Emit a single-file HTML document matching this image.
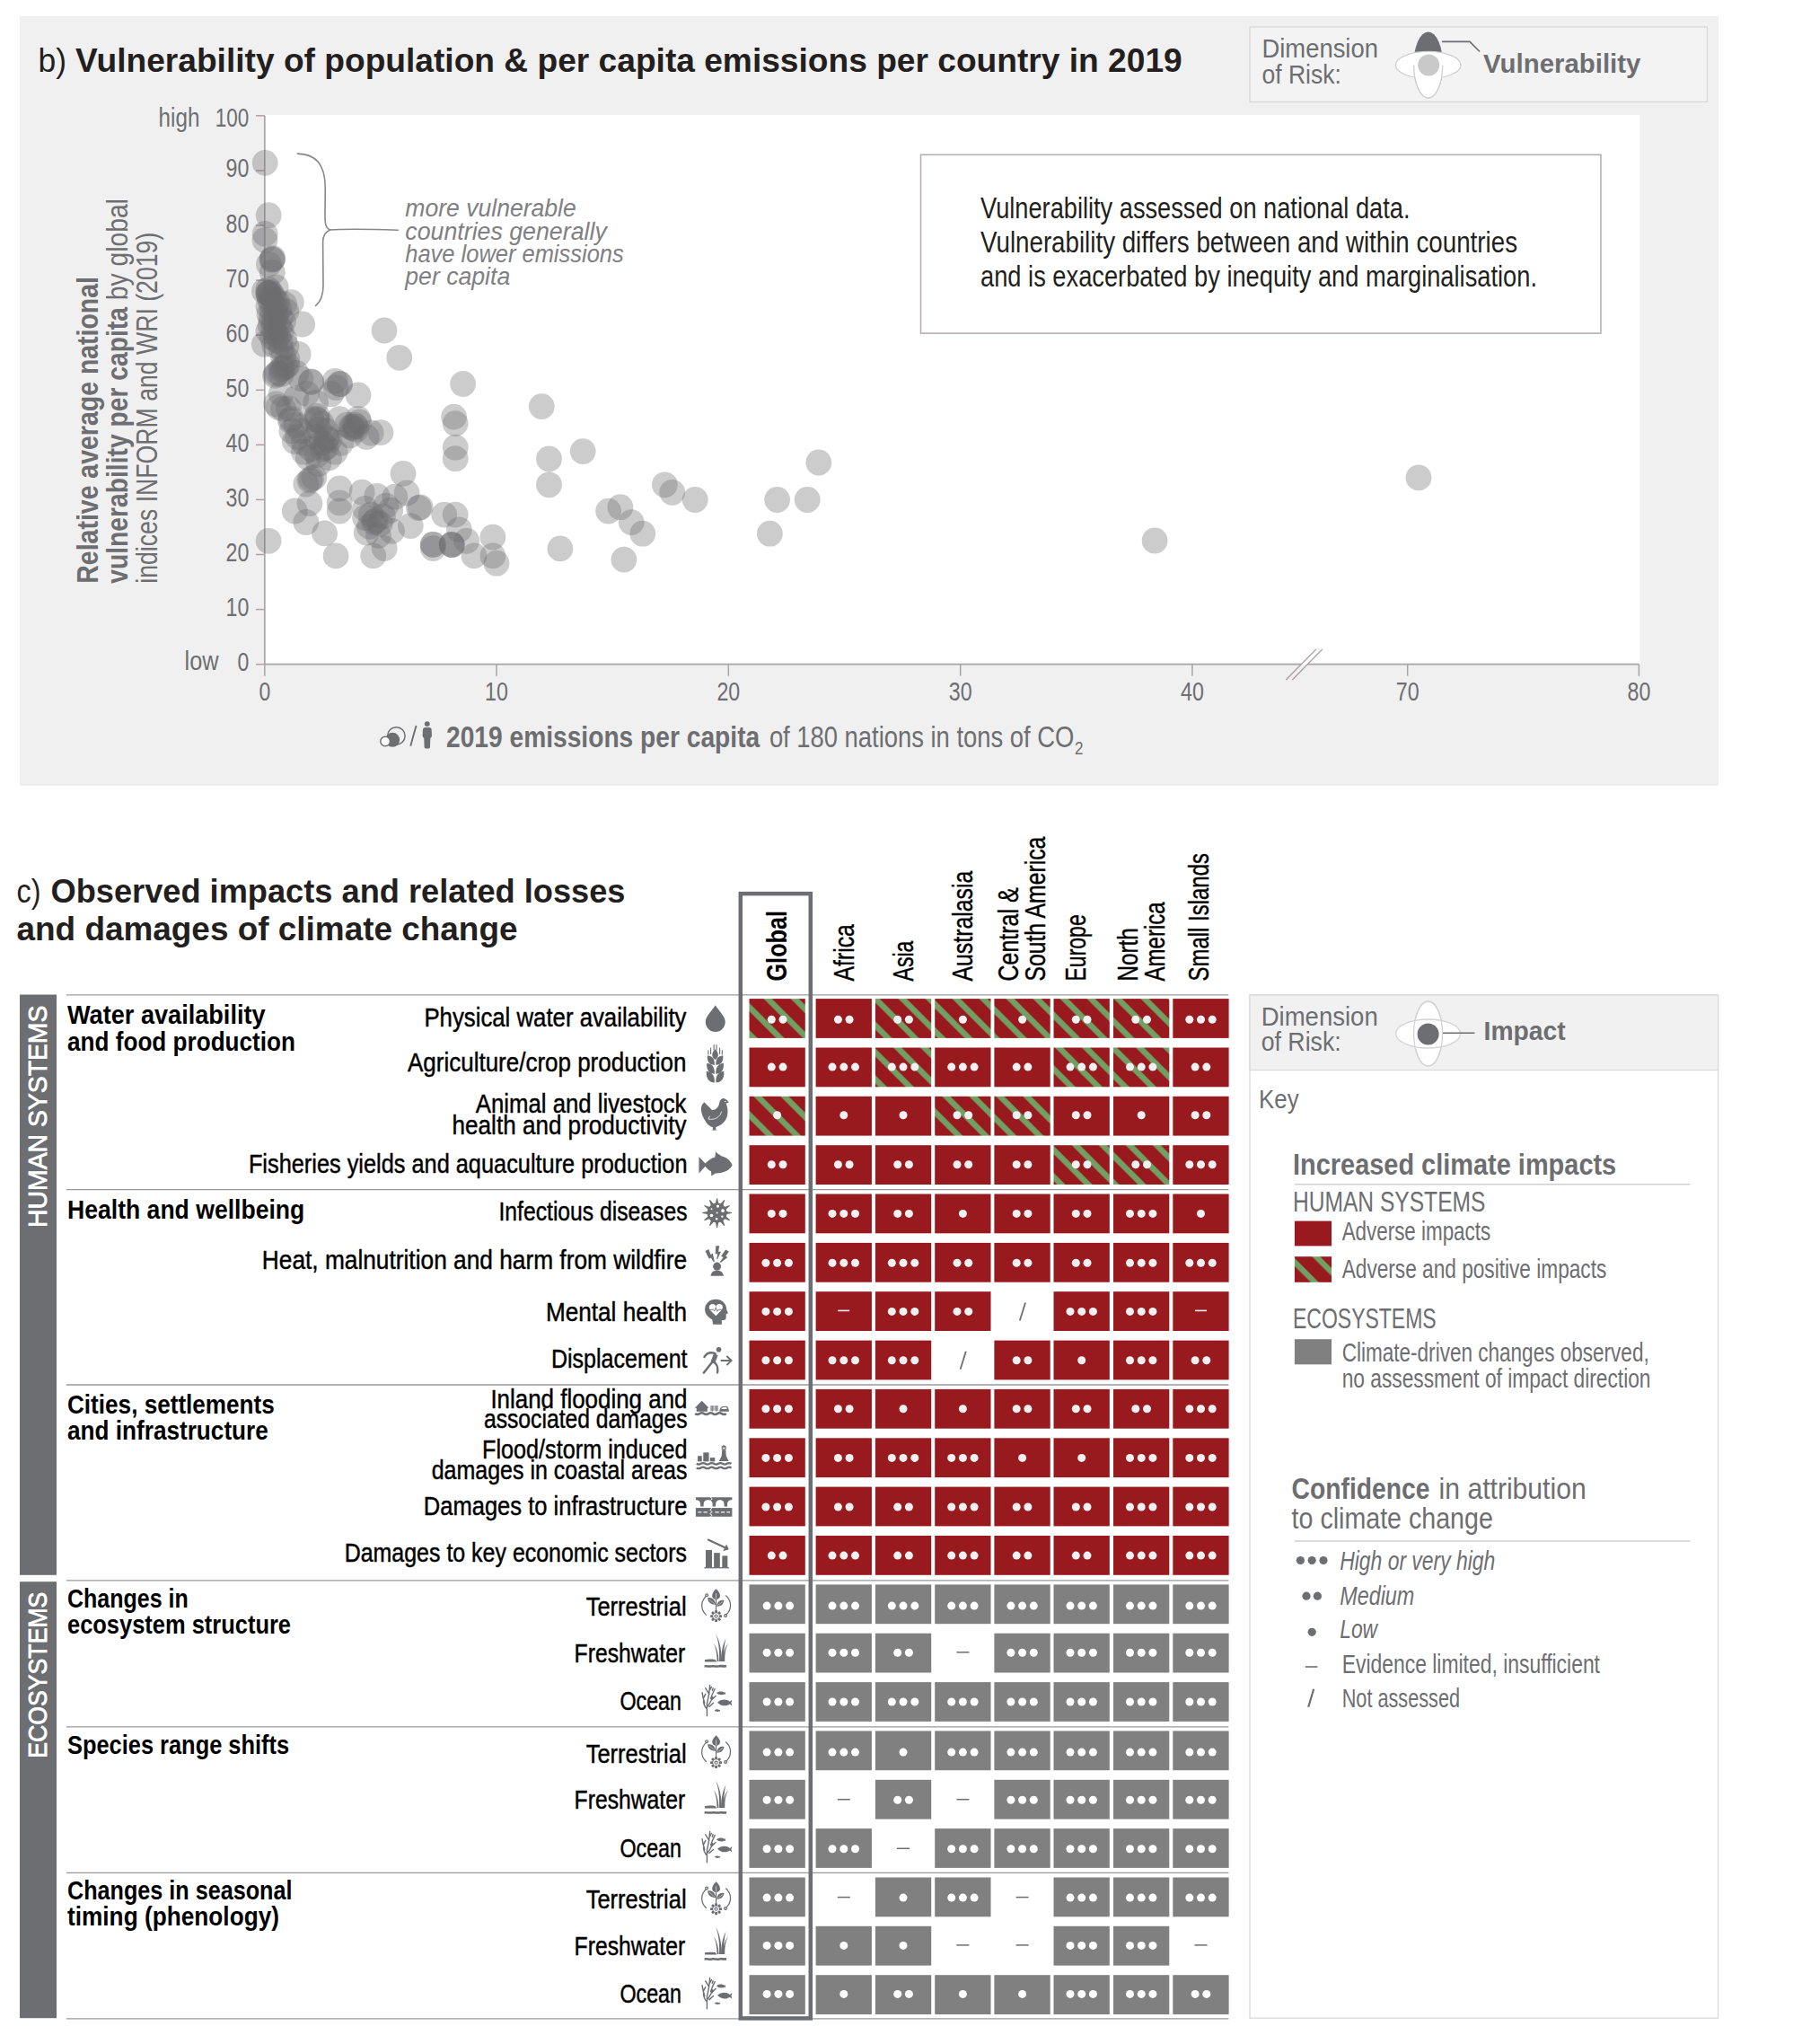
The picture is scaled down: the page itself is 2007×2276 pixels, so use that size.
<!DOCTYPE html>
<html lang="en"><head><meta charset="utf-8"><title>Vulnerability and observed impacts</title>
<style>
html,body{margin:0;padding:0;background:#fff;}
body{width:2007px;height:2276px;overflow:hidden;font-family:"Liberation Sans", sans-serif;}
svg{display:block;font-family:"Liberation Sans", sans-serif;}
text{white-space:pre;}
</style></head><body>
<svg width="2007" height="2276" viewBox="0 0 2007 2276">
<defs>
<pattern id="hatch" patternUnits="userSpaceOnUse" width="21.21" height="21.21" patternTransform="rotate(-45)">
<rect x="0" y="0" width="21.3" height="21.3" fill="#981a1e"/>
<rect x="6" y="0" width="6.4" height="21.3" fill="#729f63"/>
</pattern>
<pattern id="hatch2" patternUnits="userSpaceOnUse" width="21.21" height="21.21" patternTransform="rotate(-45)">
<rect x="0" y="0" width="21.3" height="21.3" fill="#981a1e"/>
<rect x="1.5" y="0" width="6.3" height="21.3" fill="#729f63"/>
</pattern>
<clipPath id="plotclip"><rect x="270" y="120" width="1560" height="640"/></clipPath>
</defs>
<rect x="22" y="18" width="1892" height="857" fill="#f0f0f0"/>
<rect x="295" y="128" width="1531.5" height="611.8" fill="#ffffff"/>
<text x="42.5" y="80.2" font-size="36" textLength="31.5" lengthAdjust="spacingAndGlyphs" fill="#231f20" >b)</text>
<text x="84.1" y="80.2" font-size="36" textLength="1232.6" lengthAdjust="spacingAndGlyphs" font-weight="bold" fill="#231f20" >Vulnerability of population &amp; per capita emissions per country in 2019</text>
<rect x="1392" y="30" width="509.4" height="83.5" fill="#f3f3f3" stroke="#d6d6d6" stroke-width="1.2"/>
<text x="1405.5" y="64.0" font-size="30" textLength="129.4" lengthAdjust="spacingAndGlyphs" fill="#6d6e71" >Dimension</text>
<text x="1405.5" y="92.8" font-size="30" textLength="88.4" lengthAdjust="spacingAndGlyphs" fill="#6d6e71" >of Risk:</text>
<text x="1652.1" y="80.8" font-size="29.5" textLength="175.3" lengthAdjust="spacingAndGlyphs" font-weight="bold" fill="#6d6e71" >Vulnerability</text>
<clipPath id="cpb"><rect x="1570.7" y="72.4" width="40" height="40"/></clipPath>
<g stroke="#d0d0d0" stroke-width="1.3"><ellipse cx="1590.7" cy="72.4" rx="16.4" ry="36.9" fill="#6d6e71" stroke="none"/><ellipse cx="1590.7" cy="72.4" rx="36.3" ry="15" fill="#ffffff"/><ellipse cx="1590.7" cy="72.4" rx="16" ry="36.7" fill="#ffffff" clip-path="url(#cpb)"/><circle cx="1591.2" cy="72.4" r="12" fill="#c9c9c9" stroke="none"/></g>
<path d="M1606,46.4 H1637 L1648,57.5" fill="none" stroke="#6d6e71" stroke-width="1.6"/>
<path d="M294.8,128.80000000000007 V739.7 H1825.6" fill="none" stroke="#a7a5a6" stroke-width="1.7"/>
<path d="M1432.2,757 L1465.9,722.9 L1472.8,722.9 L1439.3,757 Z" fill="#ffffff" stroke="none"/>
<path d="M1432.2,757 L1449.3,739.7 L1456.3,739.7 L1439.3,757 Z" fill="#f0f0f0" stroke="none"/>
<path d="M1432.2,757 L1465.9,722.9 M1439.3,757 L1472.8,722.9" stroke="#a89a9e" stroke-width="1.3" fill="none"/>
<line x1="285" y1="739.7" x2="294.8" y2="739.7" stroke="#b09fa3" stroke-width="1.5"/>
<text x="277.3" y="747.2" font-size="29.7" textLength="12.8" lengthAdjust="spacingAndGlyphs" text-anchor="end" fill="#6d6e71" >0</text>
<line x1="285" y1="678.6" x2="294.8" y2="678.6" stroke="#b09fa3" stroke-width="1.5"/>
<text x="277.3" y="686.1" font-size="29.7" textLength="25.8" lengthAdjust="spacingAndGlyphs" text-anchor="end" fill="#6d6e71" >10</text>
<line x1="285" y1="617.5" x2="294.8" y2="617.5" stroke="#b09fa3" stroke-width="1.5"/>
<text x="277.3" y="625.0" font-size="29.7" textLength="25.8" lengthAdjust="spacingAndGlyphs" text-anchor="end" fill="#6d6e71" >20</text>
<line x1="285" y1="556.4" x2="294.8" y2="556.4" stroke="#b09fa3" stroke-width="1.5"/>
<text x="277.3" y="563.9" font-size="29.7" textLength="25.8" lengthAdjust="spacingAndGlyphs" text-anchor="end" fill="#6d6e71" >30</text>
<line x1="285" y1="495.3" x2="294.8" y2="495.3" stroke="#b09fa3" stroke-width="1.5"/>
<text x="277.3" y="502.8" font-size="29.7" textLength="25.8" lengthAdjust="spacingAndGlyphs" text-anchor="end" fill="#6d6e71" >40</text>
<line x1="285" y1="434.3" x2="294.8" y2="434.3" stroke="#b09fa3" stroke-width="1.5"/>
<text x="277.3" y="441.8" font-size="29.7" textLength="25.8" lengthAdjust="spacingAndGlyphs" text-anchor="end" fill="#6d6e71" >50</text>
<line x1="285" y1="373.2" x2="294.8" y2="373.2" stroke="#b09fa3" stroke-width="1.5"/>
<text x="277.3" y="380.7" font-size="29.7" textLength="25.8" lengthAdjust="spacingAndGlyphs" text-anchor="end" fill="#6d6e71" >60</text>
<line x1="285" y1="312.1" x2="294.8" y2="312.1" stroke="#b09fa3" stroke-width="1.5"/>
<text x="277.3" y="319.6" font-size="29.7" textLength="25.8" lengthAdjust="spacingAndGlyphs" text-anchor="end" fill="#6d6e71" >70</text>
<line x1="285" y1="251.0" x2="294.8" y2="251.0" stroke="#b09fa3" stroke-width="1.5"/>
<text x="277.3" y="258.5" font-size="29.7" textLength="25.8" lengthAdjust="spacingAndGlyphs" text-anchor="end" fill="#6d6e71" >80</text>
<line x1="285" y1="189.9" x2="294.8" y2="189.9" stroke="#b09fa3" stroke-width="1.5"/>
<text x="277.3" y="197.4" font-size="29.7" textLength="25.8" lengthAdjust="spacingAndGlyphs" text-anchor="end" fill="#6d6e71" >90</text>
<line x1="285" y1="128.8" x2="294.8" y2="128.8" stroke="#b09fa3" stroke-width="1.5"/>
<text x="277.3" y="141.2" font-size="29.7" textLength="37.5" lengthAdjust="spacingAndGlyphs" text-anchor="end" fill="#6d6e71" >100</text>
<text x="176.6" y="141.2" font-size="29.7" textLength="45.8" lengthAdjust="spacingAndGlyphs" fill="#6d6e71" >high</text>
<text x="205.5" y="745.6" font-size="29.7" textLength="38.0" lengthAdjust="spacingAndGlyphs" fill="#6d6e71" >low</text>
<line x1="294.8" y1="739.7" x2="294.8" y2="752.7" stroke="#a7a5a6" stroke-width="1.5"/>
<text x="294.8" y="779.6" font-size="29.7" textLength="12.8" lengthAdjust="spacingAndGlyphs" text-anchor="middle" fill="#6d6e71" >0</text>
<line x1="553" y1="739.7" x2="553" y2="752.7" stroke="#a7a5a6" stroke-width="1.5"/>
<text x="553.0" y="779.6" font-size="29.7" textLength="25.8" lengthAdjust="spacingAndGlyphs" text-anchor="middle" fill="#6d6e71" >10</text>
<line x1="811.3" y1="739.7" x2="811.3" y2="752.7" stroke="#a7a5a6" stroke-width="1.5"/>
<text x="811.3" y="779.6" font-size="29.7" textLength="25.8" lengthAdjust="spacingAndGlyphs" text-anchor="middle" fill="#6d6e71" >20</text>
<line x1="1069.7" y1="739.7" x2="1069.7" y2="752.7" stroke="#a7a5a6" stroke-width="1.5"/>
<text x="1069.7" y="779.6" font-size="29.7" textLength="25.8" lengthAdjust="spacingAndGlyphs" text-anchor="middle" fill="#6d6e71" >30</text>
<line x1="1327.9" y1="739.7" x2="1327.9" y2="752.7" stroke="#a7a5a6" stroke-width="1.5"/>
<text x="1327.9" y="779.6" font-size="29.7" textLength="25.8" lengthAdjust="spacingAndGlyphs" text-anchor="middle" fill="#6d6e71" >40</text>
<line x1="1567.7" y1="739.7" x2="1567.7" y2="752.7" stroke="#a7a5a6" stroke-width="1.5"/>
<text x="1567.7" y="779.6" font-size="29.7" textLength="25.8" lengthAdjust="spacingAndGlyphs" text-anchor="middle" fill="#6d6e71" >70</text>
<line x1="1825.4" y1="739.7" x2="1825.4" y2="752.7" stroke="#a7a5a6" stroke-width="1.5"/>
<text x="1825.4" y="779.6" font-size="29.7" textLength="25.8" lengthAdjust="spacingAndGlyphs" text-anchor="middle" fill="#6d6e71" >80</text>
<text x="109.3" y="649.7" font-size="33.5" textLength="341.7" lengthAdjust="spacingAndGlyphs" font-weight="bold" transform="rotate(-90 109.3 649.7)" fill="#6d6e71" >Relative average national</text>
<text x="142.4" y="649.7" font-size="33.5" textLength="428.6" lengthAdjust="spacingAndGlyphs" transform="rotate(-90 142.4 649.7)" fill="#6d6e71" ><tspan font-weight="bold">vulnerability per capita</tspan> by global</text>
<text x="175.2" y="649.7" font-size="33.5" textLength="391.0" lengthAdjust="spacingAndGlyphs" transform="rotate(-90 175.2 649.7)" fill="#6d6e71" >indices INFORM and WRI (2019)</text>
<text x="497.0" y="832.3" font-size="34" textLength="349.2" lengthAdjust="spacingAndGlyphs" font-weight="bold" fill="#6d6e71" >2019 emissions per capita</text>
<text x="856.9" y="832.3" font-size="34" textLength="339.4" lengthAdjust="spacingAndGlyphs" fill="#6d6e71" >of 180 nations in tons of CO</text>
<text x="1197.0" y="840.0" font-size="20" textLength="9.5" lengthAdjust="spacingAndGlyphs" fill="#6d6e71" >2</text>
<g><circle cx="441.35" cy="819.4" r="9.75" fill="#f0f0f0" stroke="#6d6e71" stroke-width="1.5"/><circle cx="437.2" cy="823.85" r="8" fill="#6d6e71"/><circle cx="429.15" cy="825.5" r="5.35" fill="#ffffff" stroke="#6d6e71" stroke-width="1.5"/></g>
<line x1="457.2" y1="830.8" x2="463.55" y2="808" stroke="#6d6e71" stroke-width="1.9"/>
<g fill="#6d6e71"><circle cx="475.76" cy="806.1" r="2.95"/><path d="M470.9,813 q0,-3 3,-3 h3.8 q3,0 3,3 l0.3,7 l-1.7,2.2 l-0.3,9.6 q0,1.6 -1.6,1.6 h-3.2 q-1.6,0 -1.6,-1.6 l-0.3,-9.6 l-1.7,-2.2 z"/></g>
<rect x="1025.5" y="172.3" width="757.5" height="198.8" fill="#ffffff" stroke="#b4aaae" stroke-width="1.5"/>
<text x="1092.0" y="243.4" font-size="32.5" textLength="478.5" lengthAdjust="spacingAndGlyphs" fill="#231f20" >Vulnerability assessed on national data.</text>
<text x="1092.0" y="281.1" font-size="32.5" textLength="598.0" lengthAdjust="spacingAndGlyphs" fill="#231f20" >Vulnerability differs between and within countries</text>
<text x="1092.0" y="318.8" font-size="32.5" textLength="620.0" lengthAdjust="spacingAndGlyphs" fill="#231f20" >and is exacerbated by inequity and marginalisation.</text>
<text x="451.3" y="241.2" font-size="27" textLength="190.5" lengthAdjust="spacingAndGlyphs" font-style="italic" fill="#808084" >more vulnerable</text>
<text x="451.3" y="266.8" font-size="27" textLength="224.5" lengthAdjust="spacingAndGlyphs" font-style="italic" fill="#808084" >countries generally</text>
<text x="451.3" y="291.9" font-size="27" textLength="243.4" lengthAdjust="spacingAndGlyphs" font-style="italic" fill="#808084" >have lower emissions</text>
<text x="451.3" y="316.9" font-size="27" textLength="116.9" lengthAdjust="spacingAndGlyphs" font-style="italic" fill="#808084" >per capita</text>
<path d="M331.3,171.1 C352,171.5 362.3,183 362.3,210 L362,240 C362,250 363,254.5 368,256 C363,257.5 359.6,261 359.6,270 L360,318 C360,328 358,335 351.6,340.4 M367,256 C390,254.5 420,255.5 443.2,256.3" fill="none" stroke="#87878a" stroke-width="1.6" stroke-linecap="round"/>
<g fill="#6d6e71" fill-opacity="0.35">
<circle cx="603.3" cy="452.6" r="14.4"/>
<circle cx="611.5" cy="511.0" r="14.4"/>
<circle cx="649.2" cy="502.6" r="14.4"/>
<circle cx="611.5" cy="539.8" r="14.4"/>
<circle cx="740.4" cy="539.8" r="14.4"/>
<circle cx="748.7" cy="548.3" r="14.4"/>
<circle cx="774.2" cy="556.5" r="14.4"/>
<circle cx="677.6" cy="569.1" r="14.4"/>
<circle cx="690.9" cy="564.7" r="14.4"/>
<circle cx="703.2" cy="581.6" r="14.4"/>
<circle cx="715.8" cy="594.2" r="14.4"/>
<circle cx="694.9" cy="623.1" r="14.4"/>
<circle cx="623.9" cy="610.9" r="14.4"/>
<circle cx="911.8" cy="515.0" r="14.4"/>
<circle cx="865.6" cy="556.5" r="14.4"/>
<circle cx="899.2" cy="556.5" r="14.4"/>
<circle cx="857.4" cy="594.2" r="14.4"/>
<circle cx="1286.1" cy="602.0" r="14.4"/>
<circle cx="1580.0" cy="531.9" r="14.4"/>
<circle cx="428.0" cy="368.0" r="14.4"/>
<circle cx="444.8" cy="398.3" r="14.4"/>
<circle cx="515.6" cy="427.5" r="14.4"/>
<circle cx="505.6" cy="464.1" r="14.4"/>
<circle cx="507.2" cy="471.6" r="14.4"/>
<circle cx="507.2" cy="498.2" r="14.4"/>
<circle cx="507.2" cy="510.7" r="14.4"/>
<circle cx="399.0" cy="440.0" r="14.4"/>
<circle cx="378.2" cy="427.5" r="14.4"/>
<circle cx="374.1" cy="431.6" r="14.4"/>
<circle cx="424.0" cy="481.6" r="14.4"/>
<circle cx="449.0" cy="527.4" r="14.4"/>
<circle cx="378.2" cy="544.0" r="14.4"/>
<circle cx="378.2" cy="559.8" r="14.4"/>
<circle cx="378.2" cy="569.0" r="14.4"/>
<circle cx="403.2" cy="548.2" r="14.4"/>
<circle cx="419.8" cy="552.3" r="14.4"/>
<circle cx="453.1" cy="549.0" r="14.4"/>
<circle cx="439.8" cy="553.2" r="14.4"/>
<circle cx="468.1" cy="564.8" r="14.4"/>
<circle cx="466.4" cy="565.6" r="14.4"/>
<circle cx="494.7" cy="573.1" r="14.4"/>
<circle cx="507.2" cy="573.1" r="14.4"/>
<circle cx="511.4" cy="589.8" r="14.4"/>
<circle cx="519.7" cy="602.3" r="14.4"/>
<circle cx="548.9" cy="598.1" r="14.4"/>
<circle cx="503.1" cy="606.4" r="14.4"/>
<circle cx="503.1" cy="606.4" r="14.4"/>
<circle cx="503.4" cy="606.9" r="14.4"/>
<circle cx="482.3" cy="606.4" r="14.4"/>
<circle cx="482.3" cy="606.4" r="14.4"/>
<circle cx="482.3" cy="610.6" r="14.4"/>
<circle cx="528.0" cy="618.9" r="14.4"/>
<circle cx="548.9" cy="618.9" r="14.4"/>
<circle cx="553.0" cy="627.2" r="14.4"/>
<circle cx="299.1" cy="602.3" r="14.4"/>
<circle cx="328.3" cy="569.0" r="14.4"/>
<circle cx="344.9" cy="560.6" r="14.4"/>
<circle cx="340.8" cy="581.5" r="14.4"/>
<circle cx="361.6" cy="593.9" r="14.4"/>
<circle cx="374.1" cy="618.9" r="14.4"/>
<circle cx="415.7" cy="618.9" r="14.4"/>
<circle cx="428.2" cy="610.6" r="14.4"/>
<circle cx="457.3" cy="585.6" r="14.4"/>
<circle cx="344.9" cy="534.8" r="14.4"/>
<circle cx="349.9" cy="531.5" r="14.4"/>
<circle cx="340.8" cy="539.0" r="14.4"/>
<circle cx="346.6" cy="533.2" r="14.4"/>
<circle cx="406.5" cy="566.5" r="14.4"/>
<circle cx="413.2" cy="573.1" r="14.4"/>
<circle cx="418.2" cy="579.8" r="14.4"/>
<circle cx="423.2" cy="583.1" r="14.4"/>
<circle cx="411.5" cy="586.4" r="14.4"/>
<circle cx="426.5" cy="574.8" r="14.4"/>
<circle cx="434.8" cy="568.1" r="14.4"/>
<circle cx="436.5" cy="591.4" r="14.4"/>
<circle cx="408.2" cy="593.1" r="14.4"/>
<circle cx="421.5" cy="596.4" r="14.4"/>
<circle cx="429.8" cy="563.1" r="14.4"/>
<circle cx="416.5" cy="581.5" r="14.4"/>
<circle cx="406.5" cy="576.5" r="14.4"/>
<circle cx="310.0" cy="415.0" r="14.4"/>
<circle cx="315.0" cy="410.0" r="14.4"/>
<circle cx="320.0" cy="406.7" r="14.4"/>
<circle cx="306.6" cy="418.3" r="14.4"/>
<circle cx="313.3" cy="416.6" r="14.4"/>
<circle cx="334.9" cy="421.6" r="14.4"/>
<circle cx="346.6" cy="425.0" r="14.4"/>
<circle cx="313.3" cy="438.3" r="14.4"/>
<circle cx="310.0" cy="453.3" r="14.4"/>
<circle cx="321.6" cy="454.9" r="14.4"/>
<circle cx="329.9" cy="443.3" r="14.4"/>
<circle cx="341.6" cy="438.3" r="14.4"/>
<circle cx="351.6" cy="448.3" r="14.4"/>
<circle cx="323.3" cy="468.3" r="14.4"/>
<circle cx="329.9" cy="473.2" r="14.4"/>
<circle cx="324.9" cy="479.9" r="14.4"/>
<circle cx="334.9" cy="479.9" r="14.4"/>
<circle cx="346.6" cy="466.6" r="14.4"/>
<circle cx="353.2" cy="463.3" r="14.4"/>
<circle cx="358.2" cy="471.6" r="14.4"/>
<circle cx="363.2" cy="479.9" r="14.4"/>
<circle cx="366.6" cy="489.9" r="14.4"/>
<circle cx="359.9" cy="499.9" r="14.4"/>
<circle cx="353.2" cy="506.5" r="14.4"/>
<circle cx="346.6" cy="499.9" r="14.4"/>
<circle cx="338.3" cy="493.2" r="14.4"/>
<circle cx="331.6" cy="486.6" r="14.4"/>
<circle cx="343.3" cy="509.9" r="14.4"/>
<circle cx="366.6" cy="509.9" r="14.4"/>
<circle cx="373.2" cy="503.2" r="14.4"/>
<circle cx="379.9" cy="493.2" r="14.4"/>
<circle cx="386.5" cy="473.2" r="14.4"/>
<circle cx="394.9" cy="473.2" r="14.4"/>
<circle cx="396.5" cy="478.2" r="14.4"/>
<circle cx="399.9" cy="469.9" r="14.4"/>
<circle cx="389.9" cy="484.9" r="14.4"/>
<circle cx="408.2" cy="486.6" r="14.4"/>
<circle cx="378.2" cy="466.6" r="14.4"/>
<circle cx="354.9" cy="516.5" r="14.4"/>
<circle cx="338.3" cy="503.2" r="14.4"/>
<circle cx="328.3" cy="491.6" r="14.4"/>
<circle cx="358.2" cy="493.2" r="14.4"/>
<circle cx="363.2" cy="498.2" r="14.4"/>
<circle cx="351.6" cy="486.6" r="14.4"/>
<circle cx="396.5" cy="474.9" r="14.4"/>
<circle cx="354.9" cy="478.2" r="14.4"/>
<circle cx="295.2" cy="181.4" r="14.4"/>
<circle cx="299.2" cy="239.7" r="14.4"/>
<circle cx="295.2" cy="260.4" r="14.4"/>
<circle cx="295.0" cy="267.4" r="14.4"/>
<circle cx="303.3" cy="288.7" r="14.4"/>
<circle cx="303.9" cy="287.6" r="14.4"/>
<circle cx="302.8" cy="289.3" r="14.4"/>
<circle cx="299.4" cy="294.3" r="14.4"/>
<circle cx="303.3" cy="303.2" r="14.4"/>
<circle cx="307.2" cy="319.8" r="14.4"/>
<circle cx="294.4" cy="324.3" r="14.4"/>
<circle cx="298.9" cy="326.5" r="14.4"/>
<circle cx="298.9" cy="326.5" r="14.4"/>
<circle cx="299.4" cy="327.0" r="14.4"/>
<circle cx="324.4" cy="336.6" r="14.4"/>
<circle cx="336.6" cy="361.0" r="14.4"/>
<circle cx="332.2" cy="394.3" r="14.4"/>
<circle cx="294.4" cy="383.2" r="14.4"/>
<circle cx="307.7" cy="416.5" r="14.4"/>
<circle cx="329.9" cy="415.4" r="14.4"/>
<circle cx="313.3" cy="411.0" r="14.4"/>
<circle cx="298.9" cy="322.2" r="14.4"/>
<circle cx="301.1" cy="325.5" r="14.4"/>
<circle cx="303.3" cy="328.9" r="14.4"/>
<circle cx="300.0" cy="332.2" r="14.4"/>
<circle cx="305.5" cy="333.3" r="14.4"/>
<circle cx="308.9" cy="336.6" r="14.4"/>
<circle cx="302.2" cy="337.7" r="14.4"/>
<circle cx="298.9" cy="341.1" r="14.4"/>
<circle cx="306.6" cy="342.2" r="14.4"/>
<circle cx="311.1" cy="344.4" r="14.4"/>
<circle cx="303.3" cy="346.6" r="14.4"/>
<circle cx="300.0" cy="349.9" r="14.4"/>
<circle cx="307.7" cy="351.1" r="14.4"/>
<circle cx="312.2" cy="353.3" r="14.4"/>
<circle cx="316.6" cy="338.8" r="14.4"/>
<circle cx="318.8" cy="346.6" r="14.4"/>
<circle cx="302.2" cy="355.5" r="14.4"/>
<circle cx="305.5" cy="357.7" r="14.4"/>
<circle cx="308.9" cy="359.9" r="14.4"/>
<circle cx="301.1" cy="362.2" r="14.4"/>
<circle cx="304.4" cy="365.5" r="14.4"/>
<circle cx="311.1" cy="364.4" r="14.4"/>
<circle cx="315.5" cy="357.7" r="14.4"/>
<circle cx="298.9" cy="368.8" r="14.4"/>
<circle cx="306.6" cy="371.0" r="14.4"/>
<circle cx="310.0" cy="374.4" r="14.4"/>
<circle cx="313.3" cy="368.8" r="14.4"/>
<circle cx="303.3" cy="375.5" r="14.4"/>
<circle cx="307.7" cy="378.8" r="14.4"/>
<circle cx="312.2" cy="381.0" r="14.4"/>
<circle cx="305.5" cy="384.4" r="14.4"/>
<circle cx="316.6" cy="377.7" r="14.4"/>
<circle cx="313.3" cy="388.8" r="14.4"/>
<circle cx="318.8" cy="385.5" r="14.4"/>
<circle cx="315.5" cy="397.7" r="14.4"/>
<circle cx="320.0" cy="399.9" r="14.4"/>
<circle cx="317.7" cy="408.8" r="14.4"/>
<circle cx="346.6" cy="425.4" r="14.4"/>
<circle cx="373.2" cy="424.3" r="14.4"/>
<circle cx="378.8" cy="427.6" r="14.4"/>
<circle cx="368.8" cy="438.7" r="14.4"/>
<circle cx="307.7" cy="449.8" r="14.4"/>
<circle cx="315.5" cy="455.4" r="14.4"/>
<circle cx="324.4" cy="466.5" r="14.4"/>
<circle cx="352.1" cy="466.5" r="14.4"/>
<circle cx="353.3" cy="467.6" r="14.4"/>
<circle cx="391.0" cy="475.4" r="14.4"/>
<circle cx="392.1" cy="476.5" r="14.4"/>
<circle cx="398.8" cy="466.5" r="14.4"/>
<circle cx="413.2" cy="482.0" r="14.4"/>
<circle cx="363.2" cy="488.7" r="14.4"/>
<circle cx="364.4" cy="487.6" r="14.4"/>
</g>
<text x="18.5" y="1004.7" font-size="36.5" textLength="27.0" lengthAdjust="spacingAndGlyphs" fill="#231f20" >c)</text>
<text x="56.5" y="1004.7" font-size="36.5" textLength="640.0" lengthAdjust="spacingAndGlyphs" font-weight="bold" fill="#231f20" >Observed impacts and related losses</text>
<text x="18.5" y="1046.5" font-size="36.5" textLength="558.0" lengthAdjust="spacingAndGlyphs" font-weight="bold" fill="#231f20" >and damages of climate change</text>
<rect x="22" y="1107.5" width="41" height="646.3" fill="#6d6e71"/>
<rect x="22" y="1761.2" width="41" height="486" fill="#6d6e71"/>
<text x="51.7" y="1366.9" font-size="30.2" textLength="247.3" lengthAdjust="spacingAndGlyphs" transform="rotate(-90 51.7 1366.9)" fill="#ffffff" stroke="#ffffff" stroke-width="0.8">HUMAN SYSTEMS</text>
<text x="51.9" y="1957.7" font-size="30.2" textLength="185.1" lengthAdjust="spacingAndGlyphs" transform="rotate(-90 51.9 1957.7)" fill="#ffffff" stroke="#ffffff" stroke-width="0.8">ECOSYSTEMS</text>
<line x1="74" y1="1107.8" x2="1368.4" y2="1107.8" stroke="#9a9a9a" stroke-width="1.3"/>
<line x1="74" y1="1324.6" x2="1368.4" y2="1324.6" stroke="#9a9a9a" stroke-width="1.3"/>
<line x1="74" y1="1542" x2="1368.4" y2="1542" stroke="#9a9a9a" stroke-width="1.3"/>
<line x1="74" y1="1759.9" x2="1368.4" y2="1759.9" stroke="#9a9a9a" stroke-width="1.3"/>
<line x1="74" y1="1922.8" x2="1368.4" y2="1922.8" stroke="#9a9a9a" stroke-width="1.3"/>
<line x1="74" y1="2085.3" x2="1368.4" y2="2085.3" stroke="#9a9a9a" stroke-width="1.3"/>
<line x1="74" y1="2247.8" x2="1368.4" y2="2247.8" stroke="#9a9a9a" stroke-width="1.3"/>
<text x="75.0" y="1140.2" font-size="30.3" textLength="220.6" lengthAdjust="spacingAndGlyphs" font-weight="bold" fill="#000000" >Water availability</text>
<text x="75.0" y="1169.7" font-size="30.3" textLength="254.0" lengthAdjust="spacingAndGlyphs" font-weight="bold" fill="#000000" >and food production</text>
<text x="75.0" y="1357.1" font-size="30.3" textLength="264.3" lengthAdjust="spacingAndGlyphs" font-weight="bold" fill="#000000" >Health and wellbeing</text>
<text x="75.0" y="1573.6" font-size="30.3" textLength="230.8" lengthAdjust="spacingAndGlyphs" font-weight="bold" fill="#000000" >Cities, settlements</text>
<text x="75.0" y="1602.5" font-size="30.3" textLength="223.8" lengthAdjust="spacingAndGlyphs" font-weight="bold" fill="#000000" >and infrastructure</text>
<text x="75.0" y="1790.1" font-size="30.3" textLength="134.8" lengthAdjust="spacingAndGlyphs" font-weight="bold" fill="#000000" >Changes in</text>
<text x="75.0" y="1818.8" font-size="30.3" textLength="249.0" lengthAdjust="spacingAndGlyphs" font-weight="bold" fill="#000000" >ecosystem structure</text>
<text x="75.0" y="1953.0" font-size="30.3" textLength="247.1" lengthAdjust="spacingAndGlyphs" font-weight="bold" fill="#000000" >Species range shifts</text>
<text x="75.0" y="2115.3" font-size="30.3" textLength="250.4" lengthAdjust="spacingAndGlyphs" font-weight="bold" fill="#000000" >Changes in seasonal</text>
<text x="75.0" y="2144.2" font-size="30.3" textLength="236.0" lengthAdjust="spacingAndGlyphs" font-weight="bold" fill="#000000" >timing (phenology)</text>
<text x="472.4" y="1142.9" font-size="29.5" textLength="292.1" lengthAdjust="spacingAndGlyphs" fill="#000000" stroke="#000000" stroke-width="0.45">Physical water availability</text>
<text x="454.0" y="1192.5" font-size="29.5" textLength="310.5" lengthAdjust="spacingAndGlyphs" fill="#000000" stroke="#000000" stroke-width="0.45">Agriculture/crop production</text>
<text x="529.8" y="1238.7" font-size="29.5" textLength="234.7" lengthAdjust="spacingAndGlyphs" fill="#000000" stroke="#000000" stroke-width="0.45">Animal and livestock</text>
<text x="503.6" y="1262.7" font-size="29.5" textLength="260.9" lengthAdjust="spacingAndGlyphs" fill="#000000" stroke="#000000" stroke-width="0.45">health and productivity</text>
<text x="276.9" y="1305.6" font-size="29.5" textLength="488.6" lengthAdjust="spacingAndGlyphs" fill="#000000" stroke="#000000" stroke-width="0.45">Fisheries yields and aquaculture production</text>
<text x="555.5" y="1359.0" font-size="29.5" textLength="210.0" lengthAdjust="spacingAndGlyphs" fill="#000000" stroke="#000000" stroke-width="0.45">Infectious diseases</text>
<text x="291.8" y="1413.3" font-size="29.5" textLength="473.2" lengthAdjust="spacingAndGlyphs" fill="#000000" stroke="#000000" stroke-width="0.45">Heat, malnutrition and harm from wildfire</text>
<text x="607.9" y="1471.1" font-size="29.5" textLength="157.1" lengthAdjust="spacingAndGlyphs" fill="#000000" stroke="#000000" stroke-width="0.45">Mental health</text>
<text x="614.0" y="1522.8" font-size="29.5" textLength="151.5" lengthAdjust="spacingAndGlyphs" fill="#000000" stroke="#000000" stroke-width="0.45">Displacement</text>
<text x="546.4" y="1568.0" font-size="29.5" textLength="219.1" lengthAdjust="spacingAndGlyphs" fill="#000000" stroke="#000000" stroke-width="0.45">Inland flooding and</text>
<text x="538.9" y="1590.0" font-size="29.5" textLength="226.6" lengthAdjust="spacingAndGlyphs" fill="#000000" stroke="#000000" stroke-width="0.45">associated damages</text>
<text x="537.0" y="1624.0" font-size="29.5" textLength="228.5" lengthAdjust="spacingAndGlyphs" fill="#000000" stroke="#000000" stroke-width="0.45">Flood/storm induced</text>
<text x="480.7" y="1646.9" font-size="29.5" textLength="284.8" lengthAdjust="spacingAndGlyphs" fill="#000000" stroke="#000000" stroke-width="0.45">damages in coastal areas</text>
<text x="471.8" y="1687.0" font-size="29.5" textLength="293.7" lengthAdjust="spacingAndGlyphs" fill="#000000" stroke="#000000" stroke-width="0.45">Damages to infrastructure</text>
<text x="383.7" y="1739.2" font-size="29.5" textLength="381.3" lengthAdjust="spacingAndGlyphs" fill="#000000" stroke="#000000" stroke-width="0.45">Damages to key economic sectors</text>
<text x="652.7" y="1799.0" font-size="29.5" textLength="111.9" lengthAdjust="spacingAndGlyphs" fill="#000000" stroke="#000000" stroke-width="0.45">Terrestrial</text>
<text x="639.6" y="1850.6" font-size="29.5" textLength="123.6" lengthAdjust="spacingAndGlyphs" fill="#000000" stroke="#000000" stroke-width="0.45">Freshwater</text>
<text x="690.4" y="1903.8" font-size="29.5" textLength="68.6" lengthAdjust="spacingAndGlyphs" fill="#000000" stroke="#000000" stroke-width="0.45">Ocean</text>
<text x="652.7" y="1962.8" font-size="29.5" textLength="111.9" lengthAdjust="spacingAndGlyphs" fill="#000000" stroke="#000000" stroke-width="0.45">Terrestrial</text>
<text x="639.6" y="2014.4" font-size="29.5" textLength="123.6" lengthAdjust="spacingAndGlyphs" fill="#000000" stroke="#000000" stroke-width="0.45">Freshwater</text>
<text x="690.4" y="2067.6" font-size="29.5" textLength="68.6" lengthAdjust="spacingAndGlyphs" fill="#000000" stroke="#000000" stroke-width="0.45">Ocean</text>
<text x="652.7" y="2125.0" font-size="29.5" textLength="111.9" lengthAdjust="spacingAndGlyphs" fill="#000000" stroke="#000000" stroke-width="0.45">Terrestrial</text>
<text x="639.6" y="2176.6" font-size="29.5" textLength="123.6" lengthAdjust="spacingAndGlyphs" fill="#000000" stroke="#000000" stroke-width="0.45">Freshwater</text>
<text x="690.4" y="2229.8" font-size="29.5" textLength="68.6" lengthAdjust="spacingAndGlyphs" fill="#000000" stroke="#000000" stroke-width="0.45">Ocean</text>
<text x="876.0" y="1092.5" font-size="31" textLength="78.5" lengthAdjust="spacingAndGlyphs" font-weight="bold" transform="rotate(-90 876.0 1092.5)" fill="#000000" >Global</text>
<text x="950.5" y="1092.5" font-size="31" textLength="63.3" lengthAdjust="spacingAndGlyphs" transform="rotate(-90 950.5 1092.5)" fill="#000000" stroke="#000000" stroke-width="0.4">Africa</text>
<text x="1016.7" y="1092.5" font-size="31" textLength="45.0" lengthAdjust="spacingAndGlyphs" transform="rotate(-90 1016.7 1092.5)" fill="#000000" stroke="#000000" stroke-width="0.4">Asia</text>
<text x="1083.0" y="1092.5" font-size="31" textLength="122.8" lengthAdjust="spacingAndGlyphs" transform="rotate(-90 1083.0 1092.5)" fill="#000000" stroke="#000000" stroke-width="0.4">Australasia</text>
<text x="1134.0" y="1092.5" font-size="31" textLength="104.2" lengthAdjust="spacingAndGlyphs" transform="rotate(-90 1134.0 1092.5)" fill="#000000" stroke="#000000" stroke-width="0.4">Central &amp;</text>
<text x="1163.6" y="1092.5" font-size="31" textLength="160.8" lengthAdjust="spacingAndGlyphs" transform="rotate(-90 1163.6 1092.5)" fill="#000000" stroke="#000000" stroke-width="0.4">South America</text>
<text x="1209.0" y="1092.5" font-size="31" textLength="74.2" lengthAdjust="spacingAndGlyphs" transform="rotate(-90 1209.0 1092.5)" fill="#000000" stroke="#000000" stroke-width="0.4">Europe</text>
<text x="1266.9" y="1092.5" font-size="31" textLength="59.2" lengthAdjust="spacingAndGlyphs" transform="rotate(-90 1266.9 1092.5)" fill="#000000" stroke="#000000" stroke-width="0.4">North</text>
<text x="1297.2" y="1092.5" font-size="31" textLength="88.2" lengthAdjust="spacingAndGlyphs" transform="rotate(-90 1297.2 1092.5)" fill="#000000" stroke="#000000" stroke-width="0.4">America</text>
<text x="1345.5" y="1092.5" font-size="31" textLength="142.5" lengthAdjust="spacingAndGlyphs" transform="rotate(-90 1345.5 1092.5)" fill="#000000" stroke="#000000" stroke-width="0.4">Small Islands</text>
<rect x="834.5" y="1112.1" width="62.3" height="43.8" fill="url(#hatch)"/>
<circle cx="859.3" cy="1135.3" r="4.5" fill="#f1f1f2"/>
<circle cx="872.0" cy="1135.3" r="4.5" fill="#f1f1f2"/>
<rect x="908.6" y="1112.1" width="62.3" height="43.8" fill="#981a1e"/>
<circle cx="933.4" cy="1135.3" r="4.5" fill="#f1f1f2"/>
<circle cx="946.1" cy="1135.3" r="4.5" fill="#f1f1f2"/>
<rect x="974.9" y="1112.1" width="62.3" height="43.8" fill="url(#hatch)"/>
<circle cx="999.7" cy="1135.3" r="4.5" fill="#f1f1f2"/>
<circle cx="1012.4" cy="1135.3" r="4.5" fill="#f1f1f2"/>
<rect x="1041.2" y="1112.1" width="62.3" height="43.8" fill="url(#hatch)"/>
<circle cx="1072.4" cy="1135.3" r="4.5" fill="#f1f1f2"/>
<rect x="1107.4" y="1112.1" width="62.3" height="43.8" fill="url(#hatch)"/>
<circle cx="1138.6" cy="1135.3" r="4.5" fill="#f1f1f2"/>
<rect x="1173.5" y="1112.1" width="62.3" height="43.8" fill="url(#hatch)"/>
<circle cx="1198.3" cy="1135.3" r="4.5" fill="#f1f1f2"/>
<circle cx="1211.0" cy="1135.3" r="4.5" fill="#f1f1f2"/>
<rect x="1240.0" y="1112.1" width="62.3" height="43.8" fill="url(#hatch)"/>
<circle cx="1264.8" cy="1135.3" r="4.5" fill="#f1f1f2"/>
<circle cx="1277.5" cy="1135.3" r="4.5" fill="#f1f1f2"/>
<rect x="1306.3" y="1112.1" width="62.3" height="43.8" fill="#981a1e"/>
<circle cx="1324.8" cy="1135.3" r="4.5" fill="#f1f1f2"/>
<circle cx="1337.5" cy="1135.3" r="4.5" fill="#f1f1f2"/>
<circle cx="1350.2" cy="1135.3" r="4.5" fill="#f1f1f2"/>
<rect x="834.5" y="1166.5" width="62.3" height="43.8" fill="#981a1e"/>
<circle cx="859.3" cy="1188.1" r="4.5" fill="#f1f1f2"/>
<circle cx="872.0" cy="1188.1" r="4.5" fill="#f1f1f2"/>
<rect x="908.6" y="1166.5" width="62.3" height="43.8" fill="#981a1e"/>
<circle cx="927.0" cy="1188.1" r="4.5" fill="#f1f1f2"/>
<circle cx="939.8" cy="1188.1" r="4.5" fill="#f1f1f2"/>
<circle cx="952.5" cy="1188.1" r="4.5" fill="#f1f1f2"/>
<rect x="974.9" y="1166.5" width="62.3" height="43.8" fill="url(#hatch)"/>
<circle cx="993.3" cy="1188.1" r="4.5" fill="#f1f1f2"/>
<circle cx="1006.0" cy="1188.1" r="4.5" fill="#f1f1f2"/>
<circle cx="1018.8" cy="1188.1" r="4.5" fill="#f1f1f2"/>
<rect x="1041.2" y="1166.5" width="62.3" height="43.8" fill="#981a1e"/>
<circle cx="1059.7" cy="1188.1" r="4.5" fill="#f1f1f2"/>
<circle cx="1072.4" cy="1188.1" r="4.5" fill="#f1f1f2"/>
<circle cx="1085.1" cy="1188.1" r="4.5" fill="#f1f1f2"/>
<rect x="1107.4" y="1166.5" width="62.3" height="43.8" fill="#981a1e"/>
<circle cx="1132.2" cy="1188.1" r="4.5" fill="#f1f1f2"/>
<circle cx="1144.9" cy="1188.1" r="4.5" fill="#f1f1f2"/>
<rect x="1173.5" y="1166.5" width="62.3" height="43.8" fill="url(#hatch)"/>
<circle cx="1192.0" cy="1188.1" r="4.5" fill="#f1f1f2"/>
<circle cx="1204.7" cy="1188.1" r="4.5" fill="#f1f1f2"/>
<circle cx="1217.4" cy="1188.1" r="4.5" fill="#f1f1f2"/>
<rect x="1240.0" y="1166.5" width="62.3" height="43.8" fill="url(#hatch)"/>
<circle cx="1258.5" cy="1188.1" r="4.5" fill="#f1f1f2"/>
<circle cx="1271.2" cy="1188.1" r="4.5" fill="#f1f1f2"/>
<circle cx="1283.9" cy="1188.1" r="4.5" fill="#f1f1f2"/>
<rect x="1306.3" y="1166.5" width="62.3" height="43.8" fill="#981a1e"/>
<circle cx="1331.1" cy="1188.1" r="4.5" fill="#f1f1f2"/>
<circle cx="1343.8" cy="1188.1" r="4.5" fill="#f1f1f2"/>
<rect x="834.5" y="1220.8" width="62.3" height="43.8" fill="url(#hatch)"/>
<circle cx="865.6" cy="1241.7" r="4.5" fill="#f1f1f2"/>
<rect x="908.6" y="1220.8" width="62.3" height="43.8" fill="#981a1e"/>
<circle cx="939.8" cy="1241.7" r="4.5" fill="#f1f1f2"/>
<rect x="974.9" y="1220.8" width="62.3" height="43.8" fill="#981a1e"/>
<circle cx="1006.0" cy="1241.7" r="4.5" fill="#f1f1f2"/>
<rect x="1041.2" y="1220.8" width="62.3" height="43.8" fill="url(#hatch)"/>
<circle cx="1066.0" cy="1241.7" r="4.5" fill="#f1f1f2"/>
<circle cx="1078.7" cy="1241.7" r="4.5" fill="#f1f1f2"/>
<rect x="1107.4" y="1220.8" width="62.3" height="43.8" fill="url(#hatch)"/>
<circle cx="1132.2" cy="1241.7" r="4.5" fill="#f1f1f2"/>
<circle cx="1144.9" cy="1241.7" r="4.5" fill="#f1f1f2"/>
<rect x="1173.5" y="1220.8" width="62.3" height="43.8" fill="#981a1e"/>
<circle cx="1198.3" cy="1241.7" r="4.5" fill="#f1f1f2"/>
<circle cx="1211.0" cy="1241.7" r="4.5" fill="#f1f1f2"/>
<rect x="1240.0" y="1220.8" width="62.3" height="43.8" fill="#981a1e"/>
<circle cx="1271.2" cy="1241.7" r="4.5" fill="#f1f1f2"/>
<rect x="1306.3" y="1220.8" width="62.3" height="43.8" fill="#981a1e"/>
<circle cx="1331.1" cy="1241.7" r="4.5" fill="#f1f1f2"/>
<circle cx="1343.8" cy="1241.7" r="4.5" fill="#f1f1f2"/>
<rect x="834.5" y="1275.2" width="62.3" height="43.8" fill="#981a1e"/>
<circle cx="859.3" cy="1296.8" r="4.5" fill="#f1f1f2"/>
<circle cx="872.0" cy="1296.8" r="4.5" fill="#f1f1f2"/>
<rect x="908.6" y="1275.2" width="62.3" height="43.8" fill="#981a1e"/>
<circle cx="933.4" cy="1296.8" r="4.5" fill="#f1f1f2"/>
<circle cx="946.1" cy="1296.8" r="4.5" fill="#f1f1f2"/>
<rect x="974.9" y="1275.2" width="62.3" height="43.8" fill="#981a1e"/>
<circle cx="999.7" cy="1296.8" r="4.5" fill="#f1f1f2"/>
<circle cx="1012.4" cy="1296.8" r="4.5" fill="#f1f1f2"/>
<rect x="1041.2" y="1275.2" width="62.3" height="43.8" fill="#981a1e"/>
<circle cx="1066.0" cy="1296.8" r="4.5" fill="#f1f1f2"/>
<circle cx="1078.7" cy="1296.8" r="4.5" fill="#f1f1f2"/>
<rect x="1107.4" y="1275.2" width="62.3" height="43.8" fill="#981a1e"/>
<circle cx="1132.2" cy="1296.8" r="4.5" fill="#f1f1f2"/>
<circle cx="1144.9" cy="1296.8" r="4.5" fill="#f1f1f2"/>
<rect x="1173.5" y="1275.2" width="62.3" height="43.8" fill="url(#hatch)"/>
<circle cx="1198.3" cy="1296.8" r="4.5" fill="#f1f1f2"/>
<circle cx="1211.0" cy="1296.8" r="4.5" fill="#f1f1f2"/>
<rect x="1240.0" y="1275.2" width="62.3" height="43.8" fill="url(#hatch)"/>
<circle cx="1264.8" cy="1296.8" r="4.5" fill="#f1f1f2"/>
<circle cx="1277.5" cy="1296.8" r="4.5" fill="#f1f1f2"/>
<rect x="1306.3" y="1275.2" width="62.3" height="43.8" fill="#981a1e"/>
<circle cx="1324.8" cy="1296.8" r="4.5" fill="#f1f1f2"/>
<circle cx="1337.5" cy="1296.8" r="4.5" fill="#f1f1f2"/>
<circle cx="1350.2" cy="1296.8" r="4.5" fill="#f1f1f2"/>
<rect x="834.5" y="1329.5" width="62.3" height="43.8" fill="#981a1e"/>
<circle cx="859.3" cy="1351.4" r="4.5" fill="#f1f1f2"/>
<circle cx="872.0" cy="1351.4" r="4.5" fill="#f1f1f2"/>
<rect x="908.6" y="1329.5" width="62.3" height="43.8" fill="#981a1e"/>
<circle cx="927.0" cy="1351.4" r="4.5" fill="#f1f1f2"/>
<circle cx="939.8" cy="1351.4" r="4.5" fill="#f1f1f2"/>
<circle cx="952.5" cy="1351.4" r="4.5" fill="#f1f1f2"/>
<rect x="974.9" y="1329.5" width="62.3" height="43.8" fill="#981a1e"/>
<circle cx="999.7" cy="1351.4" r="4.5" fill="#f1f1f2"/>
<circle cx="1012.4" cy="1351.4" r="4.5" fill="#f1f1f2"/>
<rect x="1041.2" y="1329.5" width="62.3" height="43.8" fill="#981a1e"/>
<circle cx="1072.4" cy="1351.4" r="4.5" fill="#f1f1f2"/>
<rect x="1107.4" y="1329.5" width="62.3" height="43.8" fill="#981a1e"/>
<circle cx="1132.2" cy="1351.4" r="4.5" fill="#f1f1f2"/>
<circle cx="1144.9" cy="1351.4" r="4.5" fill="#f1f1f2"/>
<rect x="1173.5" y="1329.5" width="62.3" height="43.8" fill="#981a1e"/>
<circle cx="1198.3" cy="1351.4" r="4.5" fill="#f1f1f2"/>
<circle cx="1211.0" cy="1351.4" r="4.5" fill="#f1f1f2"/>
<rect x="1240.0" y="1329.5" width="62.3" height="43.8" fill="#981a1e"/>
<circle cx="1258.5" cy="1351.4" r="4.5" fill="#f1f1f2"/>
<circle cx="1271.2" cy="1351.4" r="4.5" fill="#f1f1f2"/>
<circle cx="1283.9" cy="1351.4" r="4.5" fill="#f1f1f2"/>
<rect x="1306.3" y="1329.5" width="62.3" height="43.8" fill="#981a1e"/>
<circle cx="1337.5" cy="1351.4" r="4.5" fill="#f1f1f2"/>
<rect x="834.5" y="1383.9" width="62.3" height="43.8" fill="#981a1e"/>
<circle cx="852.9" cy="1406.3" r="4.5" fill="#f1f1f2"/>
<circle cx="865.6" cy="1406.3" r="4.5" fill="#f1f1f2"/>
<circle cx="878.4" cy="1406.3" r="4.5" fill="#f1f1f2"/>
<rect x="908.6" y="1383.9" width="62.3" height="43.8" fill="#981a1e"/>
<circle cx="927.0" cy="1406.3" r="4.5" fill="#f1f1f2"/>
<circle cx="939.8" cy="1406.3" r="4.5" fill="#f1f1f2"/>
<circle cx="952.5" cy="1406.3" r="4.5" fill="#f1f1f2"/>
<rect x="974.9" y="1383.9" width="62.3" height="43.8" fill="#981a1e"/>
<circle cx="993.3" cy="1406.3" r="4.5" fill="#f1f1f2"/>
<circle cx="1006.0" cy="1406.3" r="4.5" fill="#f1f1f2"/>
<circle cx="1018.8" cy="1406.3" r="4.5" fill="#f1f1f2"/>
<rect x="1041.2" y="1383.9" width="62.3" height="43.8" fill="#981a1e"/>
<circle cx="1066.0" cy="1406.3" r="4.5" fill="#f1f1f2"/>
<circle cx="1078.7" cy="1406.3" r="4.5" fill="#f1f1f2"/>
<rect x="1107.4" y="1383.9" width="62.3" height="43.8" fill="#981a1e"/>
<circle cx="1132.2" cy="1406.3" r="4.5" fill="#f1f1f2"/>
<circle cx="1144.9" cy="1406.3" r="4.5" fill="#f1f1f2"/>
<rect x="1173.5" y="1383.9" width="62.3" height="43.8" fill="#981a1e"/>
<circle cx="1198.3" cy="1406.3" r="4.5" fill="#f1f1f2"/>
<circle cx="1211.0" cy="1406.3" r="4.5" fill="#f1f1f2"/>
<rect x="1240.0" y="1383.9" width="62.3" height="43.8" fill="#981a1e"/>
<circle cx="1258.5" cy="1406.3" r="4.5" fill="#f1f1f2"/>
<circle cx="1271.2" cy="1406.3" r="4.5" fill="#f1f1f2"/>
<circle cx="1283.9" cy="1406.3" r="4.5" fill="#f1f1f2"/>
<rect x="1306.3" y="1383.9" width="62.3" height="43.8" fill="#981a1e"/>
<circle cx="1324.8" cy="1406.3" r="4.5" fill="#f1f1f2"/>
<circle cx="1337.5" cy="1406.3" r="4.5" fill="#f1f1f2"/>
<circle cx="1350.2" cy="1406.3" r="4.5" fill="#f1f1f2"/>
<rect x="834.5" y="1438.2" width="62.3" height="43.8" fill="#981a1e"/>
<circle cx="852.9" cy="1460.4" r="4.5" fill="#f1f1f2"/>
<circle cx="865.6" cy="1460.4" r="4.5" fill="#f1f1f2"/>
<circle cx="878.4" cy="1460.4" r="4.5" fill="#f1f1f2"/>
<rect x="908.6" y="1438.2" width="62.3" height="43.8" fill="#981a1e"/>
<line x1="933.2" y1="1459.4" x2="946.2" y2="1459.4" stroke="#f1f1f2" stroke-width="1.6"/>
<rect x="974.9" y="1438.2" width="62.3" height="43.8" fill="#981a1e"/>
<circle cx="993.3" cy="1460.4" r="4.5" fill="#f1f1f2"/>
<circle cx="1006.0" cy="1460.4" r="4.5" fill="#f1f1f2"/>
<circle cx="1018.8" cy="1460.4" r="4.5" fill="#f1f1f2"/>
<rect x="1041.2" y="1438.2" width="62.3" height="43.8" fill="#981a1e"/>
<circle cx="1066.0" cy="1460.4" r="4.5" fill="#f1f1f2"/>
<circle cx="1078.7" cy="1460.4" r="4.5" fill="#f1f1f2"/>
<line x1="1135.8" y1="1470.4" x2="1142.0" y2="1450.4" stroke="#6d6e71" stroke-width="1.8"/>
<rect x="1173.5" y="1438.2" width="62.3" height="43.8" fill="#981a1e"/>
<circle cx="1192.0" cy="1460.4" r="4.5" fill="#f1f1f2"/>
<circle cx="1204.7" cy="1460.4" r="4.5" fill="#f1f1f2"/>
<circle cx="1217.4" cy="1460.4" r="4.5" fill="#f1f1f2"/>
<rect x="1240.0" y="1438.2" width="62.3" height="43.8" fill="#981a1e"/>
<circle cx="1258.5" cy="1460.4" r="4.5" fill="#f1f1f2"/>
<circle cx="1271.2" cy="1460.4" r="4.5" fill="#f1f1f2"/>
<circle cx="1283.9" cy="1460.4" r="4.5" fill="#f1f1f2"/>
<rect x="1306.3" y="1438.2" width="62.3" height="43.8" fill="#981a1e"/>
<line x1="1331.0" y1="1459.4" x2="1344.0" y2="1459.4" stroke="#f1f1f2" stroke-width="1.6"/>
<rect x="834.5" y="1492.6" width="62.3" height="43.8" fill="#981a1e"/>
<circle cx="852.9" cy="1514.7" r="4.5" fill="#f1f1f2"/>
<circle cx="865.6" cy="1514.7" r="4.5" fill="#f1f1f2"/>
<circle cx="878.4" cy="1514.7" r="4.5" fill="#f1f1f2"/>
<rect x="908.6" y="1492.6" width="62.3" height="43.8" fill="#981a1e"/>
<circle cx="927.0" cy="1514.7" r="4.5" fill="#f1f1f2"/>
<circle cx="939.8" cy="1514.7" r="4.5" fill="#f1f1f2"/>
<circle cx="952.5" cy="1514.7" r="4.5" fill="#f1f1f2"/>
<rect x="974.9" y="1492.6" width="62.3" height="43.8" fill="#981a1e"/>
<circle cx="993.3" cy="1514.7" r="4.5" fill="#f1f1f2"/>
<circle cx="1006.0" cy="1514.7" r="4.5" fill="#f1f1f2"/>
<circle cx="1018.8" cy="1514.7" r="4.5" fill="#f1f1f2"/>
<line x1="1069.6" y1="1524.7" x2="1075.8" y2="1504.7" stroke="#6d6e71" stroke-width="1.8"/>
<rect x="1107.4" y="1492.6" width="62.3" height="43.8" fill="#981a1e"/>
<circle cx="1132.2" cy="1514.7" r="4.5" fill="#f1f1f2"/>
<circle cx="1144.9" cy="1514.7" r="4.5" fill="#f1f1f2"/>
<rect x="1173.5" y="1492.6" width="62.3" height="43.8" fill="#981a1e"/>
<circle cx="1204.7" cy="1514.7" r="4.5" fill="#f1f1f2"/>
<rect x="1240.0" y="1492.6" width="62.3" height="43.8" fill="#981a1e"/>
<circle cx="1258.5" cy="1514.7" r="4.5" fill="#f1f1f2"/>
<circle cx="1271.2" cy="1514.7" r="4.5" fill="#f1f1f2"/>
<circle cx="1283.9" cy="1514.7" r="4.5" fill="#f1f1f2"/>
<rect x="1306.3" y="1492.6" width="62.3" height="43.8" fill="#981a1e"/>
<circle cx="1331.1" cy="1514.7" r="4.5" fill="#f1f1f2"/>
<circle cx="1343.8" cy="1514.7" r="4.5" fill="#f1f1f2"/>
<rect x="834.5" y="1546.9" width="62.3" height="43.8" fill="#981a1e"/>
<circle cx="852.9" cy="1568.8" r="4.5" fill="#f1f1f2"/>
<circle cx="865.6" cy="1568.8" r="4.5" fill="#f1f1f2"/>
<circle cx="878.4" cy="1568.8" r="4.5" fill="#f1f1f2"/>
<rect x="908.6" y="1546.9" width="62.3" height="43.8" fill="#981a1e"/>
<circle cx="933.4" cy="1568.8" r="4.5" fill="#f1f1f2"/>
<circle cx="946.1" cy="1568.8" r="4.5" fill="#f1f1f2"/>
<rect x="974.9" y="1546.9" width="62.3" height="43.8" fill="#981a1e"/>
<circle cx="1006.0" cy="1568.8" r="4.5" fill="#f1f1f2"/>
<rect x="1041.2" y="1546.9" width="62.3" height="43.8" fill="#981a1e"/>
<circle cx="1072.4" cy="1568.8" r="4.5" fill="#f1f1f2"/>
<rect x="1107.4" y="1546.9" width="62.3" height="43.8" fill="#981a1e"/>
<circle cx="1132.2" cy="1568.8" r="4.5" fill="#f1f1f2"/>
<circle cx="1144.9" cy="1568.8" r="4.5" fill="#f1f1f2"/>
<rect x="1173.5" y="1546.9" width="62.3" height="43.8" fill="#981a1e"/>
<circle cx="1198.3" cy="1568.8" r="4.5" fill="#f1f1f2"/>
<circle cx="1211.0" cy="1568.8" r="4.5" fill="#f1f1f2"/>
<rect x="1240.0" y="1546.9" width="62.3" height="43.8" fill="#981a1e"/>
<circle cx="1264.8" cy="1568.8" r="4.5" fill="#f1f1f2"/>
<circle cx="1277.5" cy="1568.8" r="4.5" fill="#f1f1f2"/>
<rect x="1306.3" y="1546.9" width="62.3" height="43.8" fill="#981a1e"/>
<circle cx="1324.8" cy="1568.8" r="4.5" fill="#f1f1f2"/>
<circle cx="1337.5" cy="1568.8" r="4.5" fill="#f1f1f2"/>
<circle cx="1350.2" cy="1568.8" r="4.5" fill="#f1f1f2"/>
<rect x="834.5" y="1601.3" width="62.3" height="43.8" fill="#981a1e"/>
<circle cx="852.9" cy="1623.4" r="4.5" fill="#f1f1f2"/>
<circle cx="865.6" cy="1623.4" r="4.5" fill="#f1f1f2"/>
<circle cx="878.4" cy="1623.4" r="4.5" fill="#f1f1f2"/>
<rect x="908.6" y="1601.3" width="62.3" height="43.8" fill="#981a1e"/>
<circle cx="933.4" cy="1623.4" r="4.5" fill="#f1f1f2"/>
<circle cx="946.1" cy="1623.4" r="4.5" fill="#f1f1f2"/>
<rect x="974.9" y="1601.3" width="62.3" height="43.8" fill="#981a1e"/>
<circle cx="993.3" cy="1623.4" r="4.5" fill="#f1f1f2"/>
<circle cx="1006.0" cy="1623.4" r="4.5" fill="#f1f1f2"/>
<circle cx="1018.8" cy="1623.4" r="4.5" fill="#f1f1f2"/>
<rect x="1041.2" y="1601.3" width="62.3" height="43.8" fill="#981a1e"/>
<circle cx="1059.7" cy="1623.4" r="4.5" fill="#f1f1f2"/>
<circle cx="1072.4" cy="1623.4" r="4.5" fill="#f1f1f2"/>
<circle cx="1085.1" cy="1623.4" r="4.5" fill="#f1f1f2"/>
<rect x="1107.4" y="1601.3" width="62.3" height="43.8" fill="#981a1e"/>
<circle cx="1138.6" cy="1623.4" r="4.5" fill="#f1f1f2"/>
<rect x="1173.5" y="1601.3" width="62.3" height="43.8" fill="#981a1e"/>
<circle cx="1204.7" cy="1623.4" r="4.5" fill="#f1f1f2"/>
<rect x="1240.0" y="1601.3" width="62.3" height="43.8" fill="#981a1e"/>
<circle cx="1258.5" cy="1623.4" r="4.5" fill="#f1f1f2"/>
<circle cx="1271.2" cy="1623.4" r="4.5" fill="#f1f1f2"/>
<circle cx="1283.9" cy="1623.4" r="4.5" fill="#f1f1f2"/>
<rect x="1306.3" y="1601.3" width="62.3" height="43.8" fill="#981a1e"/>
<circle cx="1324.8" cy="1623.4" r="4.5" fill="#f1f1f2"/>
<circle cx="1337.5" cy="1623.4" r="4.5" fill="#f1f1f2"/>
<circle cx="1350.2" cy="1623.4" r="4.5" fill="#f1f1f2"/>
<rect x="834.5" y="1655.6" width="62.3" height="43.8" fill="#981a1e"/>
<circle cx="852.9" cy="1678.0" r="4.5" fill="#f1f1f2"/>
<circle cx="865.6" cy="1678.0" r="4.5" fill="#f1f1f2"/>
<circle cx="878.4" cy="1678.0" r="4.5" fill="#f1f1f2"/>
<rect x="908.6" y="1655.6" width="62.3" height="43.8" fill="#981a1e"/>
<circle cx="933.4" cy="1678.0" r="4.5" fill="#f1f1f2"/>
<circle cx="946.1" cy="1678.0" r="4.5" fill="#f1f1f2"/>
<rect x="974.9" y="1655.6" width="62.3" height="43.8" fill="#981a1e"/>
<circle cx="999.7" cy="1678.0" r="4.5" fill="#f1f1f2"/>
<circle cx="1012.4" cy="1678.0" r="4.5" fill="#f1f1f2"/>
<rect x="1041.2" y="1655.6" width="62.3" height="43.8" fill="#981a1e"/>
<circle cx="1059.7" cy="1678.0" r="4.5" fill="#f1f1f2"/>
<circle cx="1072.4" cy="1678.0" r="4.5" fill="#f1f1f2"/>
<circle cx="1085.1" cy="1678.0" r="4.5" fill="#f1f1f2"/>
<rect x="1107.4" y="1655.6" width="62.3" height="43.8" fill="#981a1e"/>
<circle cx="1132.2" cy="1678.0" r="4.5" fill="#f1f1f2"/>
<circle cx="1144.9" cy="1678.0" r="4.5" fill="#f1f1f2"/>
<rect x="1173.5" y="1655.6" width="62.3" height="43.8" fill="#981a1e"/>
<circle cx="1198.3" cy="1678.0" r="4.5" fill="#f1f1f2"/>
<circle cx="1211.0" cy="1678.0" r="4.5" fill="#f1f1f2"/>
<rect x="1240.0" y="1655.6" width="62.3" height="43.8" fill="#981a1e"/>
<circle cx="1258.5" cy="1678.0" r="4.5" fill="#f1f1f2"/>
<circle cx="1271.2" cy="1678.0" r="4.5" fill="#f1f1f2"/>
<circle cx="1283.9" cy="1678.0" r="4.5" fill="#f1f1f2"/>
<rect x="1306.3" y="1655.6" width="62.3" height="43.8" fill="#981a1e"/>
<circle cx="1324.8" cy="1678.0" r="4.5" fill="#f1f1f2"/>
<circle cx="1337.5" cy="1678.0" r="4.5" fill="#f1f1f2"/>
<circle cx="1350.2" cy="1678.0" r="4.5" fill="#f1f1f2"/>
<rect x="834.5" y="1710.0" width="62.3" height="43.8" fill="#981a1e"/>
<circle cx="859.3" cy="1732.1" r="4.5" fill="#f1f1f2"/>
<circle cx="872.0" cy="1732.1" r="4.5" fill="#f1f1f2"/>
<rect x="908.6" y="1710.0" width="62.3" height="43.8" fill="#981a1e"/>
<circle cx="927.0" cy="1732.1" r="4.5" fill="#f1f1f2"/>
<circle cx="939.8" cy="1732.1" r="4.5" fill="#f1f1f2"/>
<circle cx="952.5" cy="1732.1" r="4.5" fill="#f1f1f2"/>
<rect x="974.9" y="1710.0" width="62.3" height="43.8" fill="#981a1e"/>
<circle cx="999.7" cy="1732.1" r="4.5" fill="#f1f1f2"/>
<circle cx="1012.4" cy="1732.1" r="4.5" fill="#f1f1f2"/>
<rect x="1041.2" y="1710.0" width="62.3" height="43.8" fill="#981a1e"/>
<circle cx="1059.7" cy="1732.1" r="4.5" fill="#f1f1f2"/>
<circle cx="1072.4" cy="1732.1" r="4.5" fill="#f1f1f2"/>
<circle cx="1085.1" cy="1732.1" r="4.5" fill="#f1f1f2"/>
<rect x="1107.4" y="1710.0" width="62.3" height="43.8" fill="#981a1e"/>
<circle cx="1132.2" cy="1732.1" r="4.5" fill="#f1f1f2"/>
<circle cx="1144.9" cy="1732.1" r="4.5" fill="#f1f1f2"/>
<rect x="1173.5" y="1710.0" width="62.3" height="43.8" fill="#981a1e"/>
<circle cx="1198.3" cy="1732.1" r="4.5" fill="#f1f1f2"/>
<circle cx="1211.0" cy="1732.1" r="4.5" fill="#f1f1f2"/>
<rect x="1240.0" y="1710.0" width="62.3" height="43.8" fill="#981a1e"/>
<circle cx="1258.5" cy="1732.1" r="4.5" fill="#f1f1f2"/>
<circle cx="1271.2" cy="1732.1" r="4.5" fill="#f1f1f2"/>
<circle cx="1283.9" cy="1732.1" r="4.5" fill="#f1f1f2"/>
<rect x="1306.3" y="1710.0" width="62.3" height="43.8" fill="#981a1e"/>
<circle cx="1324.8" cy="1732.1" r="4.5" fill="#f1f1f2"/>
<circle cx="1337.5" cy="1732.1" r="4.5" fill="#f1f1f2"/>
<circle cx="1350.2" cy="1732.1" r="4.5" fill="#f1f1f2"/>
<rect x="834.5" y="1764.4" width="62.3" height="43.8" fill="#808080"/>
<circle cx="854.1" cy="1788.1" r="4.5" fill="#ffffff"/>
<circle cx="866.9" cy="1788.1" r="4.5" fill="#ffffff"/>
<circle cx="879.6" cy="1788.1" r="4.5" fill="#ffffff"/>
<rect x="908.6" y="1764.4" width="62.3" height="43.8" fill="#808080"/>
<circle cx="927.0" cy="1788.1" r="4.5" fill="#ffffff"/>
<circle cx="939.8" cy="1788.1" r="4.5" fill="#ffffff"/>
<circle cx="952.5" cy="1788.1" r="4.5" fill="#ffffff"/>
<rect x="974.9" y="1764.4" width="62.3" height="43.8" fill="#808080"/>
<circle cx="993.3" cy="1788.1" r="4.5" fill="#ffffff"/>
<circle cx="1006.0" cy="1788.1" r="4.5" fill="#ffffff"/>
<circle cx="1018.8" cy="1788.1" r="4.5" fill="#ffffff"/>
<rect x="1041.2" y="1764.4" width="62.3" height="43.8" fill="#808080"/>
<circle cx="1059.7" cy="1788.1" r="4.5" fill="#ffffff"/>
<circle cx="1072.4" cy="1788.1" r="4.5" fill="#ffffff"/>
<circle cx="1085.1" cy="1788.1" r="4.5" fill="#ffffff"/>
<rect x="1107.4" y="1764.4" width="62.3" height="43.8" fill="#808080"/>
<circle cx="1125.9" cy="1788.1" r="4.5" fill="#ffffff"/>
<circle cx="1138.6" cy="1788.1" r="4.5" fill="#ffffff"/>
<circle cx="1151.3" cy="1788.1" r="4.5" fill="#ffffff"/>
<rect x="1173.5" y="1764.4" width="62.3" height="43.8" fill="#808080"/>
<circle cx="1192.0" cy="1788.1" r="4.5" fill="#ffffff"/>
<circle cx="1204.7" cy="1788.1" r="4.5" fill="#ffffff"/>
<circle cx="1217.4" cy="1788.1" r="4.5" fill="#ffffff"/>
<rect x="1240.0" y="1764.4" width="62.3" height="43.8" fill="#808080"/>
<circle cx="1258.5" cy="1788.1" r="4.5" fill="#ffffff"/>
<circle cx="1271.2" cy="1788.1" r="4.5" fill="#ffffff"/>
<circle cx="1283.9" cy="1788.1" r="4.5" fill="#ffffff"/>
<rect x="1306.3" y="1764.4" width="62.3" height="43.8" fill="#808080"/>
<circle cx="1324.8" cy="1788.1" r="4.5" fill="#ffffff"/>
<circle cx="1337.5" cy="1788.1" r="4.5" fill="#ffffff"/>
<circle cx="1350.2" cy="1788.1" r="4.5" fill="#ffffff"/>
<rect x="834.5" y="1818.7" width="62.3" height="43.8" fill="#808080"/>
<circle cx="854.1" cy="1840.3" r="4.5" fill="#ffffff"/>
<circle cx="866.9" cy="1840.3" r="4.5" fill="#ffffff"/>
<circle cx="879.6" cy="1840.3" r="4.5" fill="#ffffff"/>
<rect x="908.6" y="1818.7" width="62.3" height="43.8" fill="#808080"/>
<circle cx="927.0" cy="1840.3" r="4.5" fill="#ffffff"/>
<circle cx="939.8" cy="1840.3" r="4.5" fill="#ffffff"/>
<circle cx="952.5" cy="1840.3" r="4.5" fill="#ffffff"/>
<rect x="974.9" y="1818.7" width="62.3" height="43.8" fill="#808080"/>
<circle cx="999.7" cy="1840.3" r="4.5" fill="#ffffff"/>
<circle cx="1012.4" cy="1840.3" r="4.5" fill="#ffffff"/>
<line x1="1065.4" y1="1839.8" x2="1079.4" y2="1839.8" stroke="#6d6e71" stroke-width="1.5"/>
<rect x="1107.4" y="1818.7" width="62.3" height="43.8" fill="#808080"/>
<circle cx="1125.9" cy="1840.3" r="4.5" fill="#ffffff"/>
<circle cx="1138.6" cy="1840.3" r="4.5" fill="#ffffff"/>
<circle cx="1151.3" cy="1840.3" r="4.5" fill="#ffffff"/>
<rect x="1173.5" y="1818.7" width="62.3" height="43.8" fill="#808080"/>
<circle cx="1192.0" cy="1840.3" r="4.5" fill="#ffffff"/>
<circle cx="1204.7" cy="1840.3" r="4.5" fill="#ffffff"/>
<circle cx="1217.4" cy="1840.3" r="4.5" fill="#ffffff"/>
<rect x="1240.0" y="1818.7" width="62.3" height="43.8" fill="#808080"/>
<circle cx="1258.5" cy="1840.3" r="4.5" fill="#ffffff"/>
<circle cx="1271.2" cy="1840.3" r="4.5" fill="#ffffff"/>
<circle cx="1283.9" cy="1840.3" r="4.5" fill="#ffffff"/>
<rect x="1306.3" y="1818.7" width="62.3" height="43.8" fill="#808080"/>
<circle cx="1324.8" cy="1840.3" r="4.5" fill="#ffffff"/>
<circle cx="1337.5" cy="1840.3" r="4.5" fill="#ffffff"/>
<circle cx="1350.2" cy="1840.3" r="4.5" fill="#ffffff"/>
<rect x="834.5" y="1873.1" width="62.3" height="43.8" fill="#808080"/>
<circle cx="854.1" cy="1895.0" r="4.5" fill="#ffffff"/>
<circle cx="866.9" cy="1895.0" r="4.5" fill="#ffffff"/>
<circle cx="879.6" cy="1895.0" r="4.5" fill="#ffffff"/>
<rect x="908.6" y="1873.1" width="62.3" height="43.8" fill="#808080"/>
<circle cx="927.0" cy="1895.0" r="4.5" fill="#ffffff"/>
<circle cx="939.8" cy="1895.0" r="4.5" fill="#ffffff"/>
<circle cx="952.5" cy="1895.0" r="4.5" fill="#ffffff"/>
<rect x="974.9" y="1873.1" width="62.3" height="43.8" fill="#808080"/>
<circle cx="993.3" cy="1895.0" r="4.5" fill="#ffffff"/>
<circle cx="1006.0" cy="1895.0" r="4.5" fill="#ffffff"/>
<circle cx="1018.8" cy="1895.0" r="4.5" fill="#ffffff"/>
<rect x="1041.2" y="1873.1" width="62.3" height="43.8" fill="#808080"/>
<circle cx="1059.7" cy="1895.0" r="4.5" fill="#ffffff"/>
<circle cx="1072.4" cy="1895.0" r="4.5" fill="#ffffff"/>
<circle cx="1085.1" cy="1895.0" r="4.5" fill="#ffffff"/>
<rect x="1107.4" y="1873.1" width="62.3" height="43.8" fill="#808080"/>
<circle cx="1125.9" cy="1895.0" r="4.5" fill="#ffffff"/>
<circle cx="1138.6" cy="1895.0" r="4.5" fill="#ffffff"/>
<circle cx="1151.3" cy="1895.0" r="4.5" fill="#ffffff"/>
<rect x="1173.5" y="1873.1" width="62.3" height="43.8" fill="#808080"/>
<circle cx="1192.0" cy="1895.0" r="4.5" fill="#ffffff"/>
<circle cx="1204.7" cy="1895.0" r="4.5" fill="#ffffff"/>
<circle cx="1217.4" cy="1895.0" r="4.5" fill="#ffffff"/>
<rect x="1240.0" y="1873.1" width="62.3" height="43.8" fill="#808080"/>
<circle cx="1258.5" cy="1895.0" r="4.5" fill="#ffffff"/>
<circle cx="1271.2" cy="1895.0" r="4.5" fill="#ffffff"/>
<circle cx="1283.9" cy="1895.0" r="4.5" fill="#ffffff"/>
<rect x="1306.3" y="1873.1" width="62.3" height="43.8" fill="#808080"/>
<circle cx="1324.8" cy="1895.0" r="4.5" fill="#ffffff"/>
<circle cx="1337.5" cy="1895.0" r="4.5" fill="#ffffff"/>
<circle cx="1350.2" cy="1895.0" r="4.5" fill="#ffffff"/>
<rect x="834.5" y="1927.4" width="62.3" height="43.8" fill="#808080"/>
<circle cx="854.1" cy="1951.1" r="4.5" fill="#ffffff"/>
<circle cx="866.9" cy="1951.1" r="4.5" fill="#ffffff"/>
<circle cx="879.6" cy="1951.1" r="4.5" fill="#ffffff"/>
<rect x="908.6" y="1927.4" width="62.3" height="43.8" fill="#808080"/>
<circle cx="927.0" cy="1951.1" r="4.5" fill="#ffffff"/>
<circle cx="939.8" cy="1951.1" r="4.5" fill="#ffffff"/>
<circle cx="952.5" cy="1951.1" r="4.5" fill="#ffffff"/>
<rect x="974.9" y="1927.4" width="62.3" height="43.8" fill="#808080"/>
<circle cx="1006.0" cy="1951.1" r="4.5" fill="#ffffff"/>
<rect x="1041.2" y="1927.4" width="62.3" height="43.8" fill="#808080"/>
<circle cx="1059.7" cy="1951.1" r="4.5" fill="#ffffff"/>
<circle cx="1072.4" cy="1951.1" r="4.5" fill="#ffffff"/>
<circle cx="1085.1" cy="1951.1" r="4.5" fill="#ffffff"/>
<rect x="1107.4" y="1927.4" width="62.3" height="43.8" fill="#808080"/>
<circle cx="1125.9" cy="1951.1" r="4.5" fill="#ffffff"/>
<circle cx="1138.6" cy="1951.1" r="4.5" fill="#ffffff"/>
<circle cx="1151.3" cy="1951.1" r="4.5" fill="#ffffff"/>
<rect x="1173.5" y="1927.4" width="62.3" height="43.8" fill="#808080"/>
<circle cx="1192.0" cy="1951.1" r="4.5" fill="#ffffff"/>
<circle cx="1204.7" cy="1951.1" r="4.5" fill="#ffffff"/>
<circle cx="1217.4" cy="1951.1" r="4.5" fill="#ffffff"/>
<rect x="1240.0" y="1927.4" width="62.3" height="43.8" fill="#808080"/>
<circle cx="1258.5" cy="1951.1" r="4.5" fill="#ffffff"/>
<circle cx="1271.2" cy="1951.1" r="4.5" fill="#ffffff"/>
<circle cx="1283.9" cy="1951.1" r="4.5" fill="#ffffff"/>
<rect x="1306.3" y="1927.4" width="62.3" height="43.8" fill="#808080"/>
<circle cx="1324.8" cy="1951.1" r="4.5" fill="#ffffff"/>
<circle cx="1337.5" cy="1951.1" r="4.5" fill="#ffffff"/>
<circle cx="1350.2" cy="1951.1" r="4.5" fill="#ffffff"/>
<rect x="834.5" y="1981.8" width="62.3" height="43.8" fill="#808080"/>
<circle cx="854.1" cy="2004.2" r="4.5" fill="#ffffff"/>
<circle cx="866.9" cy="2004.2" r="4.5" fill="#ffffff"/>
<circle cx="879.6" cy="2004.2" r="4.5" fill="#ffffff"/>
<line x1="932.8" y1="2003.7" x2="946.8" y2="2003.7" stroke="#6d6e71" stroke-width="1.5"/>
<rect x="974.9" y="1981.8" width="62.3" height="43.8" fill="#808080"/>
<circle cx="999.7" cy="2004.2" r="4.5" fill="#ffffff"/>
<circle cx="1012.4" cy="2004.2" r="4.5" fill="#ffffff"/>
<line x1="1065.4" y1="2003.7" x2="1079.4" y2="2003.7" stroke="#6d6e71" stroke-width="1.5"/>
<rect x="1107.4" y="1981.8" width="62.3" height="43.8" fill="#808080"/>
<circle cx="1125.9" cy="2004.2" r="4.5" fill="#ffffff"/>
<circle cx="1138.6" cy="2004.2" r="4.5" fill="#ffffff"/>
<circle cx="1151.3" cy="2004.2" r="4.5" fill="#ffffff"/>
<rect x="1173.5" y="1981.8" width="62.3" height="43.8" fill="#808080"/>
<circle cx="1192.0" cy="2004.2" r="4.5" fill="#ffffff"/>
<circle cx="1204.7" cy="2004.2" r="4.5" fill="#ffffff"/>
<circle cx="1217.4" cy="2004.2" r="4.5" fill="#ffffff"/>
<rect x="1240.0" y="1981.8" width="62.3" height="43.8" fill="#808080"/>
<circle cx="1258.5" cy="2004.2" r="4.5" fill="#ffffff"/>
<circle cx="1271.2" cy="2004.2" r="4.5" fill="#ffffff"/>
<circle cx="1283.9" cy="2004.2" r="4.5" fill="#ffffff"/>
<rect x="1306.3" y="1981.8" width="62.3" height="43.8" fill="#808080"/>
<circle cx="1324.8" cy="2004.2" r="4.5" fill="#ffffff"/>
<circle cx="1337.5" cy="2004.2" r="4.5" fill="#ffffff"/>
<circle cx="1350.2" cy="2004.2" r="4.5" fill="#ffffff"/>
<rect x="834.5" y="2036.1" width="62.3" height="43.8" fill="#808080"/>
<circle cx="854.1" cy="2058.8" r="4.5" fill="#ffffff"/>
<circle cx="866.9" cy="2058.8" r="4.5" fill="#ffffff"/>
<circle cx="879.6" cy="2058.8" r="4.5" fill="#ffffff"/>
<rect x="908.6" y="2036.1" width="62.3" height="43.8" fill="#808080"/>
<circle cx="927.0" cy="2058.8" r="4.5" fill="#ffffff"/>
<circle cx="939.8" cy="2058.8" r="4.5" fill="#ffffff"/>
<circle cx="952.5" cy="2058.8" r="4.5" fill="#ffffff"/>
<line x1="999.0" y1="2058.3" x2="1013.0" y2="2058.3" stroke="#6d6e71" stroke-width="1.5"/>
<rect x="1041.2" y="2036.1" width="62.3" height="43.8" fill="#808080"/>
<circle cx="1059.7" cy="2058.8" r="4.5" fill="#ffffff"/>
<circle cx="1072.4" cy="2058.8" r="4.5" fill="#ffffff"/>
<circle cx="1085.1" cy="2058.8" r="4.5" fill="#ffffff"/>
<rect x="1107.4" y="2036.1" width="62.3" height="43.8" fill="#808080"/>
<circle cx="1125.9" cy="2058.8" r="4.5" fill="#ffffff"/>
<circle cx="1138.6" cy="2058.8" r="4.5" fill="#ffffff"/>
<circle cx="1151.3" cy="2058.8" r="4.5" fill="#ffffff"/>
<rect x="1173.5" y="2036.1" width="62.3" height="43.8" fill="#808080"/>
<circle cx="1192.0" cy="2058.8" r="4.5" fill="#ffffff"/>
<circle cx="1204.7" cy="2058.8" r="4.5" fill="#ffffff"/>
<circle cx="1217.4" cy="2058.8" r="4.5" fill="#ffffff"/>
<rect x="1240.0" y="2036.1" width="62.3" height="43.8" fill="#808080"/>
<circle cx="1258.5" cy="2058.8" r="4.5" fill="#ffffff"/>
<circle cx="1271.2" cy="2058.8" r="4.5" fill="#ffffff"/>
<circle cx="1283.9" cy="2058.8" r="4.5" fill="#ffffff"/>
<rect x="1306.3" y="2036.1" width="62.3" height="43.8" fill="#808080"/>
<circle cx="1324.8" cy="2058.8" r="4.5" fill="#ffffff"/>
<circle cx="1337.5" cy="2058.8" r="4.5" fill="#ffffff"/>
<circle cx="1350.2" cy="2058.8" r="4.5" fill="#ffffff"/>
<rect x="834.5" y="2090.5" width="62.3" height="43.8" fill="#808080"/>
<circle cx="854.1" cy="2113.1" r="4.5" fill="#ffffff"/>
<circle cx="866.9" cy="2113.1" r="4.5" fill="#ffffff"/>
<circle cx="879.6" cy="2113.1" r="4.5" fill="#ffffff"/>
<line x1="932.8" y1="2112.6" x2="946.8" y2="2112.6" stroke="#6d6e71" stroke-width="1.5"/>
<rect x="974.9" y="2090.5" width="62.3" height="43.8" fill="#808080"/>
<circle cx="1006.0" cy="2113.1" r="4.5" fill="#ffffff"/>
<rect x="1041.2" y="2090.5" width="62.3" height="43.8" fill="#808080"/>
<circle cx="1059.7" cy="2113.1" r="4.5" fill="#ffffff"/>
<circle cx="1072.4" cy="2113.1" r="4.5" fill="#ffffff"/>
<circle cx="1085.1" cy="2113.1" r="4.5" fill="#ffffff"/>
<line x1="1131.6" y1="2112.6" x2="1145.6" y2="2112.6" stroke="#6d6e71" stroke-width="1.5"/>
<rect x="1173.5" y="2090.5" width="62.3" height="43.8" fill="#808080"/>
<circle cx="1192.0" cy="2113.1" r="4.5" fill="#ffffff"/>
<circle cx="1204.7" cy="2113.1" r="4.5" fill="#ffffff"/>
<circle cx="1217.4" cy="2113.1" r="4.5" fill="#ffffff"/>
<rect x="1240.0" y="2090.5" width="62.3" height="43.8" fill="#808080"/>
<circle cx="1258.5" cy="2113.1" r="4.5" fill="#ffffff"/>
<circle cx="1271.2" cy="2113.1" r="4.5" fill="#ffffff"/>
<circle cx="1283.9" cy="2113.1" r="4.5" fill="#ffffff"/>
<rect x="1306.3" y="2090.5" width="62.3" height="43.8" fill="#808080"/>
<circle cx="1324.8" cy="2113.1" r="4.5" fill="#ffffff"/>
<circle cx="1337.5" cy="2113.1" r="4.5" fill="#ffffff"/>
<circle cx="1350.2" cy="2113.1" r="4.5" fill="#ffffff"/>
<rect x="834.5" y="2144.8" width="62.3" height="43.8" fill="#808080"/>
<circle cx="854.1" cy="2166.4" r="4.5" fill="#ffffff"/>
<circle cx="866.9" cy="2166.4" r="4.5" fill="#ffffff"/>
<circle cx="879.6" cy="2166.4" r="4.5" fill="#ffffff"/>
<rect x="908.6" y="2144.8" width="62.3" height="43.8" fill="#808080"/>
<circle cx="939.8" cy="2166.4" r="4.5" fill="#ffffff"/>
<rect x="974.9" y="2144.8" width="62.3" height="43.8" fill="#808080"/>
<circle cx="1006.0" cy="2166.4" r="4.5" fill="#ffffff"/>
<line x1="1065.4" y1="2165.9" x2="1079.4" y2="2165.9" stroke="#6d6e71" stroke-width="1.5"/>
<line x1="1131.6" y1="2165.9" x2="1145.6" y2="2165.9" stroke="#6d6e71" stroke-width="1.5"/>
<rect x="1173.5" y="2144.8" width="62.3" height="43.8" fill="#808080"/>
<circle cx="1192.0" cy="2166.4" r="4.5" fill="#ffffff"/>
<circle cx="1204.7" cy="2166.4" r="4.5" fill="#ffffff"/>
<circle cx="1217.4" cy="2166.4" r="4.5" fill="#ffffff"/>
<rect x="1240.0" y="2144.8" width="62.3" height="43.8" fill="#808080"/>
<circle cx="1258.5" cy="2166.4" r="4.5" fill="#ffffff"/>
<circle cx="1271.2" cy="2166.4" r="4.5" fill="#ffffff"/>
<circle cx="1283.9" cy="2166.4" r="4.5" fill="#ffffff"/>
<line x1="1330.5" y1="2165.9" x2="1344.5" y2="2165.9" stroke="#6d6e71" stroke-width="1.5"/>
<rect x="834.5" y="2199.2" width="62.3" height="43.8" fill="#808080"/>
<circle cx="854.1" cy="2220.4" r="4.5" fill="#ffffff"/>
<circle cx="866.9" cy="2220.4" r="4.5" fill="#ffffff"/>
<circle cx="879.6" cy="2220.4" r="4.5" fill="#ffffff"/>
<rect x="908.6" y="2199.2" width="62.3" height="43.8" fill="#808080"/>
<circle cx="939.8" cy="2220.4" r="4.5" fill="#ffffff"/>
<rect x="974.9" y="2199.2" width="62.3" height="43.8" fill="#808080"/>
<circle cx="999.7" cy="2220.4" r="4.5" fill="#ffffff"/>
<circle cx="1012.4" cy="2220.4" r="4.5" fill="#ffffff"/>
<rect x="1041.2" y="2199.2" width="62.3" height="43.8" fill="#808080"/>
<circle cx="1072.4" cy="2220.4" r="4.5" fill="#ffffff"/>
<rect x="1107.4" y="2199.2" width="62.3" height="43.8" fill="#808080"/>
<circle cx="1138.6" cy="2220.4" r="4.5" fill="#ffffff"/>
<rect x="1173.5" y="2199.2" width="62.3" height="43.8" fill="#808080"/>
<circle cx="1192.0" cy="2220.4" r="4.5" fill="#ffffff"/>
<circle cx="1204.7" cy="2220.4" r="4.5" fill="#ffffff"/>
<circle cx="1217.4" cy="2220.4" r="4.5" fill="#ffffff"/>
<rect x="1240.0" y="2199.2" width="62.3" height="43.8" fill="#808080"/>
<circle cx="1258.5" cy="2220.4" r="4.5" fill="#ffffff"/>
<circle cx="1271.2" cy="2220.4" r="4.5" fill="#ffffff"/>
<circle cx="1283.9" cy="2220.4" r="4.5" fill="#ffffff"/>
<rect x="1306.3" y="2199.2" width="62.3" height="43.8" fill="#808080"/>
<circle cx="1331.1" cy="2220.4" r="4.5" fill="#ffffff"/>
<circle cx="1343.8" cy="2220.4" r="4.5" fill="#ffffff"/>
<rect x="824.8" y="995.1" width="78" height="1252.3" fill="none" stroke="#6d6e71" stroke-width="4.5"/>
<rect x="1392" y="1108" width="521.6" height="1139.2" fill="#ffffff" stroke="#dadada" stroke-width="1.3"/>
<rect x="1392" y="1108" width="521.6" height="83.6" fill="#f1f1f1" stroke="#dadada" stroke-width="1.3"/>
<text x="1404.7" y="1142.0" font-size="30" textLength="130.0" lengthAdjust="spacingAndGlyphs" fill="#6d6e71" >Dimension</text>
<text x="1404.7" y="1170.3" font-size="30" textLength="89.0" lengthAdjust="spacingAndGlyphs" fill="#6d6e71" >of Risk:</text>
<g stroke="#d4d4d4" stroke-width="1.3" fill="#ffffff"><ellipse cx="1590.6" cy="1151" rx="16" ry="36"/><ellipse cx="1590.6" cy="1151" rx="36" ry="16"/><ellipse cx="1590.6" cy="1151" rx="16" ry="36" fill="none"/><circle cx="1590.6" cy="1151.5" r="12" fill="#6d6e71" stroke="none"/></g>
<line x1="1607" y1="1150.3" x2="1642.4" y2="1150.3" stroke="#6d6e71" stroke-width="1.6"/>
<text x="1652.6" y="1158.4" font-size="29.5" textLength="91.0" lengthAdjust="spacingAndGlyphs" font-weight="bold" fill="#6d6e71" >Impact</text>
<text x="1402.1" y="1233.6" font-size="30" textLength="44.5" lengthAdjust="spacingAndGlyphs" fill="#6d6e71" >Key</text>
<text x="1440.0" y="1307.9" font-size="33.6" textLength="360.2" lengthAdjust="spacingAndGlyphs" font-weight="bold" fill="#6d6e71" >Increased climate impacts</text>
<line x1="1441.9" y1="1318.8" x2="1882.3" y2="1318.8" stroke="#cfcfcf" stroke-width="1.5"/>
<text x="1440.0" y="1349.0" font-size="31" textLength="214.4" lengthAdjust="spacingAndGlyphs" fill="#6d6e71" >HUMAN SYSTEMS</text>
<rect x="1441.9" y="1359.6" width="41.1" height="27.8" fill="#981a1e"/>
<text x="1494.7" y="1380.8" font-size="30.3" textLength="165.5" lengthAdjust="spacingAndGlyphs" fill="#6d6e71" >Adverse impacts</text>
<rect x="1441.9" y="1399.2" width="41.1" height="28.6" fill="url(#hatch2)"/>
<text x="1494.7" y="1422.7" font-size="30.3" textLength="294.6" lengthAdjust="spacingAndGlyphs" fill="#6d6e71" >Adverse and positive impacts</text>
<text x="1440.0" y="1479.2" font-size="31" textLength="159.7" lengthAdjust="spacingAndGlyphs" fill="#6d6e71" >ECOSYSTEMS</text>
<rect x="1441.9" y="1491.2" width="41.1" height="28.1" fill="#808080"/>
<text x="1494.7" y="1515.7" font-size="30.3" textLength="342.0" lengthAdjust="spacingAndGlyphs" fill="#6d6e71" >Climate-driven changes observed,</text>
<text x="1494.7" y="1544.8" font-size="30.3" textLength="343.8" lengthAdjust="spacingAndGlyphs" fill="#6d6e71" >no assessment of impact direction</text>
<text x="1438.6" y="1669.3" font-size="33.6" textLength="153.8" lengthAdjust="spacingAndGlyphs" font-weight="bold" fill="#6d6e71" >Confidence</text>
<text x="1602.6" y="1669.3" font-size="33.6" textLength="164.1" lengthAdjust="spacingAndGlyphs" fill="#6d6e71" >in attribution</text>
<text x="1438.6" y="1702.1" font-size="33.6" textLength="224.2" lengthAdjust="spacingAndGlyphs" fill="#6d6e71" >to climate change</text>
<line x1="1441.9" y1="1716" x2="1882.3" y2="1716" stroke="#cfcfcf" stroke-width="1.5"/>
<circle cx="1448.4" cy="1737.5" r="4.6" fill="#6d6e71"/>
<circle cx="1461.2" cy="1737.5" r="4.6" fill="#6d6e71"/>
<circle cx="1474" cy="1737.5" r="4.6" fill="#6d6e71"/>
<text x="1492.2" y="1748.4" font-size="30.3" textLength="173.1" lengthAdjust="spacingAndGlyphs" font-style="italic" fill="#6d6e71" >High or very high</text>
<circle cx="1455" cy="1777.2" r="4.6" fill="#6d6e71"/>
<circle cx="1467.4" cy="1777.2" r="4.6" fill="#6d6e71"/>
<text x="1492.2" y="1787.1" font-size="30.3" textLength="83.1" lengthAdjust="spacingAndGlyphs" font-style="italic" fill="#6d6e71" >Medium</text>
<circle cx="1461.2" cy="1817.3" r="4.6" fill="#6d6e71"/>
<text x="1492.2" y="1823.5" font-size="30.3" textLength="41.9" lengthAdjust="spacingAndGlyphs" font-style="italic" fill="#6d6e71" >Low</text>
<line x1="1453.9" y1="1856" x2="1467.4" y2="1856" stroke="#6d6e71" stroke-width="1.6"/>
<text x="1494.7" y="1862.5" font-size="30.3" textLength="287.3" lengthAdjust="spacingAndGlyphs" fill="#6d6e71" >Evidence limited, insufficient</text>
<line x1="1457.2" y1="1900.8" x2="1463.2" y2="1880.8" stroke="#6d6e71" stroke-width="2.2"/>
<text x="1494.7" y="1900.8" font-size="30.3" textLength="131.3" lengthAdjust="spacingAndGlyphs" fill="#6d6e71" >Not assessed</text>
<g transform="translate(765,1105) scale(0.10769)" fill="#6d6e71" stroke="none" ><path d="M295,133 C320,180 397,245 397,305 A102,104 0 0 1 193,305 C193,245 270,180 295,133 Z"/><rect x="217" y="597" width="10" height="48"/><rect x="242" y="572" width="10" height="68"/><rect x="275" y="540" width="10" height="60"/><rect x="302" y="540" width="10" height="60"/><rect x="335" y="572" width="10" height="68"/><rect x="360" y="597" width="10" height="48"/><path d="M293,588 C332,625 336,668 293,698 C250,668 254,625 293,588 Z"/><path d="M300,750 C358,752 381,705 373,652 C323,660 296,685 300,750 Z"/><path d="M286,750 C228,752 205,705 213,652 C263,660 290,685 286,750 Z"/><path d="M300,842 C358,844 387,797 379,732 C323,740 296,777 300,842 Z"/><path d="M286,842 C228,844 199,797 207,732 C263,740 290,777 286,842 Z"/><path d="M300,932 C358,934 391,887 383,815 C323,823 296,867 300,932 Z"/><path d="M286,932 C228,934 195,887 203,815 C263,823 290,867 286,932 Z"/><path d="M180,1135 L262,1218 C300,1215 325,1195 335,1150 C340,1110 365,1095 385,1097 C405,1100 415,1115 435,1135 L405,1148 C420,1180 430,1230 415,1285 C400,1340 350,1375 300,1392 L300,1418 L315,1425 L255,1425 L268,1418 L268,1395 C230,1385 200,1350 195,1335 C160,1290 140,1220 150,1185 C155,1160 170,1145 180,1135 Z"/><path d="M238,1278 L222,1310 C290,1322 345,1290 358,1232" fill="none" stroke="#ffffff" stroke-width="7"/><circle cx="396" cy="1128" r="7" fill="#ffffff"/><path d="M125,1700 L190,1770 C230,1730 260,1712 292,1705 L297,1645 C320,1670 350,1690 380,1700 C420,1715 455,1745 470,1785 C450,1830 400,1860 340,1868 C320,1870 305,1870 295,1870 L255,1900 L250,1850 C225,1840 205,1820 190,1800 L125,1870 Z"/></g>
<g transform="translate(765,1325) scale(0.10769)" fill="#6d6e71" stroke="none" ><path d="M329.0,149.0 L317.0,85.0 L307.0,85.0 L295.0,149.0 Z"/><path d="M370.7,169.3 L392.3,107.9 L383.7,102.9 L341.3,152.3 Z"/><path d="M396.7,207.7 L446.1,165.3 L441.1,156.7 L379.7,178.3 Z"/><path d="M400.0,254.0 L464.0,242.0 L464.0,232.0 L400.0,220.0 Z"/><path d="M379.7,295.7 L441.1,317.3 L446.1,308.7 L396.7,266.3 Z"/><path d="M341.3,321.7 L383.7,371.1 L392.3,366.1 L370.7,304.7 Z"/><path d="M295.0,325.0 L307.0,389.0 L317.0,389.0 L329.0,325.0 Z"/><path d="M253.3,304.7 L231.7,366.1 L240.3,371.1 L282.7,321.7 Z"/><path d="M227.3,266.3 L177.9,308.7 L182.9,317.3 L244.3,295.7 Z"/><path d="M224.0,220.0 L160.0,232.0 L160.0,242.0 L224.0,254.0 Z"/><path d="M244.3,178.3 L182.9,156.7 L177.9,165.3 L227.3,207.7 Z"/><path d="M282.7,152.3 L240.3,102.9 L231.7,107.9 L253.3,169.3 Z"/><circle cx="312" cy="237" r="102"/><circle cx="320" cy="168" r="15" fill="#ffffff"/><circle cx="372" cy="215" r="17" fill="#ffffff"/><circle cx="255" cy="265" r="17" fill="#ffffff"/><circle cx="255" cy="198" r="9" fill="#ffffff"/><circle cx="312" cy="237" r="9" fill="#ffffff"/><circle cx="365" cy="275" r="11" fill="#ffffff"/><circle cx="308" cy="300" r="11" fill="#ffffff"/><circle cx="312" cy="790" r="42"/><path d="M246,890 C248,850 280,830 312,830 C345,830 377,850 380,890 Z"/><path d="M300,578 L336,578 L326,638 L352,638 L316,718 L308,716 L318,662 L294,662 Z"/><path d="M190,632 L226,614 L246,668 L268,658 L286,742 L276,746 L250,700 L230,712 Z"/><path d="M400,618 L436,636 L402,684 L422,696 L350,752 L342,745 L376,696 L354,684 Z"/><path d="M300,1130 C370,1130 410,1180 410,1235 L426,1275 L405,1286 L405,1320 C405,1336 395,1346 380,1346 L360,1346 L362,1390 L270,1390 L262,1340 C215,1315 187,1280 187,1235 C187,1175 235,1130 300,1130 Z"/><path d="M300,1302 L242,1244 C218,1215 235,1180 265,1180 C285,1180 295,1192 300,1204 C305,1192 318,1180 338,1180 C368,1180 384,1215 358,1244 Z" fill="#ffffff"/><path d="M232,1238 L275,1238 L286,1252 L300,1214 L315,1256 L326,1238 L368,1238" fill="none" stroke="#6d6e71" stroke-width="8"/><circle cx="330" cy="1650" r="26"/><g fill="none" stroke="#6d6e71" stroke-linecap="round" stroke-linejoin="round"><path d="M300,1700 L268,1785" stroke-width="46" stroke-linecap="butt"/><path d="M296,1692 C250,1675 205,1685 180,1728" stroke-width="21"/><path d="M262,1780 L175,1890" stroke-width="23"/><path d="M272,1775 C315,1800 325,1830 316,1888" stroke-width="23"/><path d="M350,1765 L455,1765 M412,1718 L460,1765 L412,1812" stroke-width="18" stroke-linecap="butt" stroke-linejoin="miter"/></g></g>
<g transform="translate(765,1545) scale(0.10769)" fill="#6d6e71" stroke="none" ><path d="M82,212 L155,138 L228,212 L212,212 L212,248 L100,248 L100,212 Z"/><rect x="258" y="188" width="8" height="60"/><rect x="242" y="191" width="40" height="10"/><rect x="242" y="209" width="40" height="10"/><rect x="242" y="227" width="40" height="10"/><rect x="301" y="188" width="8" height="60"/><rect x="285" y="191" width="40" height="10"/><rect x="285" y="209" width="40" height="10"/><rect x="285" y="227" width="40" height="10"/><path d="M338,248 L340,226 C346,212 356,199 372,195 L410,192 C426,196 433,216 436,248 Z"/><path d="M356,222 C360,212 366,206 376,204 L404,203 C410,206 414,214 416,222 Z" fill="#ffffff"/><path d="M85,270 q23.0,14.4 46.0,0 t46.0,0 t46.0,0 t46.0,0 t46.0,0 t46.0,0 t46.0,0" fill="none" stroke="#6d6e71" stroke-width="24"/><rect x="112" y="708" width="43" height="57"/><rect x="170" y="672" width="58" height="93"/><rect x="240" y="725" width="50" height="40"/><path d="M333,762 L432,762 L406,705 L402,642 L364,642 L360,705 Z"/><rect x="360" y="614" width="46" height="26"/><rect x="370" y="620" width="26" height="12" fill="#ffffff"/><path d="M352,616 L383,594 L414,616 Z"/><path d="M100,788 q22.5,14.4 45.0,0 t45.0,0 t45.0,0 t45.0,0 t45.0,0 t45.0,0 t45.0,0 t45.0,0" fill="none" stroke="#6d6e71" stroke-width="22"/><path d="M100,830 q22.5,14.4 45.0,0 t45.0,0 t45.0,0 t45.0,0 t45.0,0 t45.0,0 t45.0,0 t45.0,0" fill="none" stroke="#6d6e71" stroke-width="22"/><rect x="92" y="1135" width="376" height="27"/><path d="M95,1160 C127,1162 141,1180 141,1212 L141,1230 L173,1230 L173,1212 C173,1180 187,1162 219,1160 Z"/><path d="M220,1160 C252,1162 266,1180 266,1212 L266,1230 L298,1230 L298,1212 C298,1180 312,1162 344,1160 Z"/><path d="M340,1160 C372,1162 386,1180 386,1212 L386,1230 L418,1230 L418,1212 C418,1180 432,1162 464,1160 Z"/><rect x="92" y="1245" width="376" height="90"/><rect x="115" y="1284" width="37" height="11" fill="#ffffff"/><rect x="172" y="1284" width="40" height="11" fill="#ffffff"/><rect x="292" y="1284" width="40" height="11" fill="#ffffff"/><rect x="352" y="1284" width="40" height="11" fill="#ffffff"/><rect x="412" y="1284" width="34" height="11" fill="#ffffff"/><path d="M238,1128 L262,1150 L246,1165 M262,1240 L240,1268 L262,1286 L238,1306 L260,1320 L244,1340" fill="none" stroke="#ffffff" stroke-width="9"/><rect x="195" y="1680" width="65" height="182"/><rect x="280" y="1710" width="62" height="152"/><rect x="365" y="1740" width="56" height="122"/><rect x="180" y="1858" width="256" height="12"/><path d="M215,1572 L405,1660" fill="none" stroke="#6d6e71" stroke-width="21"/><path d="M434,1674 L374,1692 L410,1620 Z"/></g>
<g transform="translate(765,1760.0) scale(0.08313)" fill="#6d6e71" stroke="none" ><path d="M392,110 C425,140 447,175 445,205 C443,235 420,250 392,252 C364,250 341,235 339,205 C337,175 359,140 392,110 Z"/><rect x="385" y="170" width="14" height="240" fill="#6d6e71"/><path d="M392,170 L392,245" stroke="#ffffff" stroke-width="7" fill="none"/><path d="M278,232 C320,222 360,240 378,285 C382,300 384,312 386,322 C350,325 310,310 292,280 C284,265 280,250 278,232 Z"/><path d="M500,265 C470,255 430,265 412,300 C405,315 402,330 400,345 C430,348 462,335 480,312 C490,298 496,282 500,265 Z"/><path d="M300,250 L370,310 M482,280 L415,332" stroke="#ffffff" stroke-width="6" fill="none"/><rect x="375" y="398" width="34" height="40" rx="8" transform="rotate(0 392 476)"/><rect x="375" y="398" width="34" height="40" rx="8" transform="rotate(45 392 476)"/><rect x="375" y="398" width="34" height="40" rx="8" transform="rotate(90 392 476)"/><rect x="375" y="398" width="34" height="40" rx="8" transform="rotate(135 392 476)"/><rect x="375" y="398" width="34" height="40" rx="8" transform="rotate(180 392 476)"/><rect x="375" y="398" width="34" height="40" rx="8" transform="rotate(225 392 476)"/><rect x="375" y="398" width="34" height="40" rx="8" transform="rotate(270 392 476)"/><rect x="375" y="398" width="34" height="40" rx="8" transform="rotate(315 392 476)"/><circle cx="392" cy="476" r="60"/><circle cx="392" cy="476" r="40" fill="#ffffff"/><circle cx="392" cy="476" r="26"/><circle cx="392" cy="476" r="12" fill="#ffffff"/><rect x="388.5" y="402" width="7" height="30" fill="#ffffff" transform="rotate(22.5 392 476)"/><rect x="388.5" y="402" width="7" height="30" fill="#ffffff" transform="rotate(67.5 392 476)"/><rect x="388.5" y="402" width="7" height="30" fill="#ffffff" transform="rotate(112.5 392 476)"/><rect x="388.5" y="402" width="7" height="30" fill="#ffffff" transform="rotate(157.5 392 476)"/><rect x="388.5" y="402" width="7" height="30" fill="#ffffff" transform="rotate(202.5 392 476)"/><rect x="388.5" y="402" width="7" height="30" fill="#ffffff" transform="rotate(247.5 392 476)"/><rect x="388.5" y="402" width="7" height="30" fill="#ffffff" transform="rotate(292.5 392 476)"/><rect x="388.5" y="402" width="7" height="30" fill="#ffffff" transform="rotate(337.5 392 476)"/><path d="M262,205 C180,280 180,390 262,465" fill="none" stroke="#6d6e71" stroke-width="15"/><path d="M520,198 C605,270 605,390 522,462" fill="none" stroke="#6d6e71" stroke-width="15"/><circle cx="266" cy="196" r="24"/><circle cx="266" cy="196" r="9" fill="#ffffff"/><circle cx="518" cy="468" r="24"/><circle cx="518" cy="468" r="9" fill="#ffffff"/></g>
<g transform="translate(765,1760.0) scale(0.08313)" fill="#6d6e71" stroke="none" ><path d="M386,714 C442,800 466,950 470,1082 L434,1082 C440,960 428,810 386,714 Z"/><path d="M522,776 C478,860 458,960 466,1082 L500,1082 C490,970 500,865 522,776 Z"/><path d="M360,840 C404,905 424,985 428,1082 L404,1082 C404,990 390,910 360,840 Z"/><path d="M554,840 C518,905 506,985 508,1082 L484,1082 C482,985 506,900 554,840 Z"/><path d="M240,1060 C280,1050 330,1052 380,1058 L402,1088 L240,1088 Z"/><path d="M236,1132 C270,1124 300,1140 335,1132 C370,1124 400,1140 435,1132 C470,1124 500,1136 530,1130 L530,1162 C500,1168 470,1154 435,1162 C400,1170 370,1154 335,1162 C300,1170 270,1154 236,1164 Z"/></g>
<g transform="translate(765,1760.0) scale(0.08313)" fill="#6d6e71" stroke="none" ><g fill="none" stroke="#6d6e71" stroke-width="17" stroke-linecap="round"><path d="M270,1812 L270,1640 M270,1720 C240,1690 225,1660 222,1610 M270,1690 C300,1660 330,1600 345,1560 M272,1640 C290,1560 305,1470 308,1400 M300,1520 C280,1490 262,1465 250,1440 M305,1470 L330,1425 M320,1580 C340,1520 360,1480 375,1450 M238,1640 C225,1600 212,1550 205,1500 M225,1570 L250,1520 M330,1600 L385,1545 M300,1690 L355,1640 M340,1470 L350,1440"/></g><path d="M410,1632 C450,1590 530,1580 575,1622 L605,1598 L596,1638 L605,1678 L575,1654 C530,1690 450,1680 410,1632 Z"/><path d="M396,1505 C425,1478 480,1478 505,1502 L520,1488 L516,1510 L520,1534 L505,1520 C480,1540 425,1535 396,1505 Z"/><path d="M370,1738 C390,1720 420,1720 436,1735 L446,1726 L444,1740 L446,1756 L436,1747 C420,1760 390,1758 370,1738 Z"/></g>
<g transform="translate(765,1923.07) scale(0.08313)" fill="#6d6e71" stroke="none" ><path d="M392,110 C425,140 447,175 445,205 C443,235 420,250 392,252 C364,250 341,235 339,205 C337,175 359,140 392,110 Z"/><rect x="385" y="170" width="14" height="240" fill="#6d6e71"/><path d="M392,170 L392,245" stroke="#ffffff" stroke-width="7" fill="none"/><path d="M278,232 C320,222 360,240 378,285 C382,300 384,312 386,322 C350,325 310,310 292,280 C284,265 280,250 278,232 Z"/><path d="M500,265 C470,255 430,265 412,300 C405,315 402,330 400,345 C430,348 462,335 480,312 C490,298 496,282 500,265 Z"/><path d="M300,250 L370,310 M482,280 L415,332" stroke="#ffffff" stroke-width="6" fill="none"/><rect x="375" y="398" width="34" height="40" rx="8" transform="rotate(0 392 476)"/><rect x="375" y="398" width="34" height="40" rx="8" transform="rotate(45 392 476)"/><rect x="375" y="398" width="34" height="40" rx="8" transform="rotate(90 392 476)"/><rect x="375" y="398" width="34" height="40" rx="8" transform="rotate(135 392 476)"/><rect x="375" y="398" width="34" height="40" rx="8" transform="rotate(180 392 476)"/><rect x="375" y="398" width="34" height="40" rx="8" transform="rotate(225 392 476)"/><rect x="375" y="398" width="34" height="40" rx="8" transform="rotate(270 392 476)"/><rect x="375" y="398" width="34" height="40" rx="8" transform="rotate(315 392 476)"/><circle cx="392" cy="476" r="60"/><circle cx="392" cy="476" r="40" fill="#ffffff"/><circle cx="392" cy="476" r="26"/><circle cx="392" cy="476" r="12" fill="#ffffff"/><rect x="388.5" y="402" width="7" height="30" fill="#ffffff" transform="rotate(22.5 392 476)"/><rect x="388.5" y="402" width="7" height="30" fill="#ffffff" transform="rotate(67.5 392 476)"/><rect x="388.5" y="402" width="7" height="30" fill="#ffffff" transform="rotate(112.5 392 476)"/><rect x="388.5" y="402" width="7" height="30" fill="#ffffff" transform="rotate(157.5 392 476)"/><rect x="388.5" y="402" width="7" height="30" fill="#ffffff" transform="rotate(202.5 392 476)"/><rect x="388.5" y="402" width="7" height="30" fill="#ffffff" transform="rotate(247.5 392 476)"/><rect x="388.5" y="402" width="7" height="30" fill="#ffffff" transform="rotate(292.5 392 476)"/><rect x="388.5" y="402" width="7" height="30" fill="#ffffff" transform="rotate(337.5 392 476)"/><path d="M262,205 C180,280 180,390 262,465" fill="none" stroke="#6d6e71" stroke-width="15"/><path d="M520,198 C605,270 605,390 522,462" fill="none" stroke="#6d6e71" stroke-width="15"/><circle cx="266" cy="196" r="24"/><circle cx="266" cy="196" r="9" fill="#ffffff"/><circle cx="518" cy="468" r="24"/><circle cx="518" cy="468" r="9" fill="#ffffff"/></g>
<g transform="translate(765,1923.07) scale(0.08313)" fill="#6d6e71" stroke="none" ><path d="M386,714 C442,800 466,950 470,1082 L434,1082 C440,960 428,810 386,714 Z"/><path d="M522,776 C478,860 458,960 466,1082 L500,1082 C490,970 500,865 522,776 Z"/><path d="M360,840 C404,905 424,985 428,1082 L404,1082 C404,990 390,910 360,840 Z"/><path d="M554,840 C518,905 506,985 508,1082 L484,1082 C482,985 506,900 554,840 Z"/><path d="M240,1060 C280,1050 330,1052 380,1058 L402,1088 L240,1088 Z"/><path d="M236,1132 C270,1124 300,1140 335,1132 C370,1124 400,1140 435,1132 C470,1124 500,1136 530,1130 L530,1162 C500,1168 470,1154 435,1162 C400,1170 370,1154 335,1162 C300,1170 270,1154 236,1164 Z"/></g>
<g transform="translate(765,1923.07) scale(0.08313)" fill="#6d6e71" stroke="none" ><g fill="none" stroke="#6d6e71" stroke-width="17" stroke-linecap="round"><path d="M270,1812 L270,1640 M270,1720 C240,1690 225,1660 222,1610 M270,1690 C300,1660 330,1600 345,1560 M272,1640 C290,1560 305,1470 308,1400 M300,1520 C280,1490 262,1465 250,1440 M305,1470 L330,1425 M320,1580 C340,1520 360,1480 375,1450 M238,1640 C225,1600 212,1550 205,1500 M225,1570 L250,1520 M330,1600 L385,1545 M300,1690 L355,1640 M340,1470 L350,1440"/></g><path d="M410,1632 C450,1590 530,1580 575,1622 L605,1598 L596,1638 L605,1678 L575,1654 C530,1690 450,1680 410,1632 Z"/><path d="M396,1505 C425,1478 480,1478 505,1502 L520,1488 L516,1510 L520,1534 L505,1520 C480,1540 425,1535 396,1505 Z"/><path d="M370,1738 C390,1720 420,1720 436,1735 L446,1726 L444,1740 L446,1756 L436,1747 C420,1760 390,1758 370,1738 Z"/></g>
<g transform="translate(765,2086.14) scale(0.08313)" fill="#6d6e71" stroke="none" ><path d="M392,110 C425,140 447,175 445,205 C443,235 420,250 392,252 C364,250 341,235 339,205 C337,175 359,140 392,110 Z"/><rect x="385" y="170" width="14" height="240" fill="#6d6e71"/><path d="M392,170 L392,245" stroke="#ffffff" stroke-width="7" fill="none"/><path d="M278,232 C320,222 360,240 378,285 C382,300 384,312 386,322 C350,325 310,310 292,280 C284,265 280,250 278,232 Z"/><path d="M500,265 C470,255 430,265 412,300 C405,315 402,330 400,345 C430,348 462,335 480,312 C490,298 496,282 500,265 Z"/><path d="M300,250 L370,310 M482,280 L415,332" stroke="#ffffff" stroke-width="6" fill="none"/><rect x="375" y="398" width="34" height="40" rx="8" transform="rotate(0 392 476)"/><rect x="375" y="398" width="34" height="40" rx="8" transform="rotate(45 392 476)"/><rect x="375" y="398" width="34" height="40" rx="8" transform="rotate(90 392 476)"/><rect x="375" y="398" width="34" height="40" rx="8" transform="rotate(135 392 476)"/><rect x="375" y="398" width="34" height="40" rx="8" transform="rotate(180 392 476)"/><rect x="375" y="398" width="34" height="40" rx="8" transform="rotate(225 392 476)"/><rect x="375" y="398" width="34" height="40" rx="8" transform="rotate(270 392 476)"/><rect x="375" y="398" width="34" height="40" rx="8" transform="rotate(315 392 476)"/><circle cx="392" cy="476" r="60"/><circle cx="392" cy="476" r="40" fill="#ffffff"/><circle cx="392" cy="476" r="26"/><circle cx="392" cy="476" r="12" fill="#ffffff"/><rect x="388.5" y="402" width="7" height="30" fill="#ffffff" transform="rotate(22.5 392 476)"/><rect x="388.5" y="402" width="7" height="30" fill="#ffffff" transform="rotate(67.5 392 476)"/><rect x="388.5" y="402" width="7" height="30" fill="#ffffff" transform="rotate(112.5 392 476)"/><rect x="388.5" y="402" width="7" height="30" fill="#ffffff" transform="rotate(157.5 392 476)"/><rect x="388.5" y="402" width="7" height="30" fill="#ffffff" transform="rotate(202.5 392 476)"/><rect x="388.5" y="402" width="7" height="30" fill="#ffffff" transform="rotate(247.5 392 476)"/><rect x="388.5" y="402" width="7" height="30" fill="#ffffff" transform="rotate(292.5 392 476)"/><rect x="388.5" y="402" width="7" height="30" fill="#ffffff" transform="rotate(337.5 392 476)"/><path d="M262,205 C180,280 180,390 262,465" fill="none" stroke="#6d6e71" stroke-width="15"/><path d="M520,198 C605,270 605,390 522,462" fill="none" stroke="#6d6e71" stroke-width="15"/><circle cx="266" cy="196" r="24"/><circle cx="266" cy="196" r="9" fill="#ffffff"/><circle cx="518" cy="468" r="24"/><circle cx="518" cy="468" r="9" fill="#ffffff"/></g>
<g transform="translate(765,2086.14) scale(0.08313)" fill="#6d6e71" stroke="none" ><path d="M386,714 C442,800 466,950 470,1082 L434,1082 C440,960 428,810 386,714 Z"/><path d="M522,776 C478,860 458,960 466,1082 L500,1082 C490,970 500,865 522,776 Z"/><path d="M360,840 C404,905 424,985 428,1082 L404,1082 C404,990 390,910 360,840 Z"/><path d="M554,840 C518,905 506,985 508,1082 L484,1082 C482,985 506,900 554,840 Z"/><path d="M240,1060 C280,1050 330,1052 380,1058 L402,1088 L240,1088 Z"/><path d="M236,1132 C270,1124 300,1140 335,1132 C370,1124 400,1140 435,1132 C470,1124 500,1136 530,1130 L530,1162 C500,1168 470,1154 435,1162 C400,1170 370,1154 335,1162 C300,1170 270,1154 236,1164 Z"/></g>
<g transform="translate(765,2086.14) scale(0.08313)" fill="#6d6e71" stroke="none" ><g fill="none" stroke="#6d6e71" stroke-width="17" stroke-linecap="round"><path d="M270,1812 L270,1640 M270,1720 C240,1690 225,1660 222,1610 M270,1690 C300,1660 330,1600 345,1560 M272,1640 C290,1560 305,1470 308,1400 M300,1520 C280,1490 262,1465 250,1440 M305,1470 L330,1425 M320,1580 C340,1520 360,1480 375,1450 M238,1640 C225,1600 212,1550 205,1500 M225,1570 L250,1520 M330,1600 L385,1545 M300,1690 L355,1640 M340,1470 L350,1440"/></g><path d="M410,1632 C450,1590 530,1580 575,1622 L605,1598 L596,1638 L605,1678 L575,1654 C530,1690 450,1680 410,1632 Z"/><path d="M396,1505 C425,1478 480,1478 505,1502 L520,1488 L516,1510 L520,1534 L505,1520 C480,1540 425,1535 396,1505 Z"/><path d="M370,1738 C390,1720 420,1720 436,1735 L446,1726 L444,1740 L446,1756 L436,1747 C420,1760 390,1758 370,1738 Z"/></g>
</svg>
</body></html>
